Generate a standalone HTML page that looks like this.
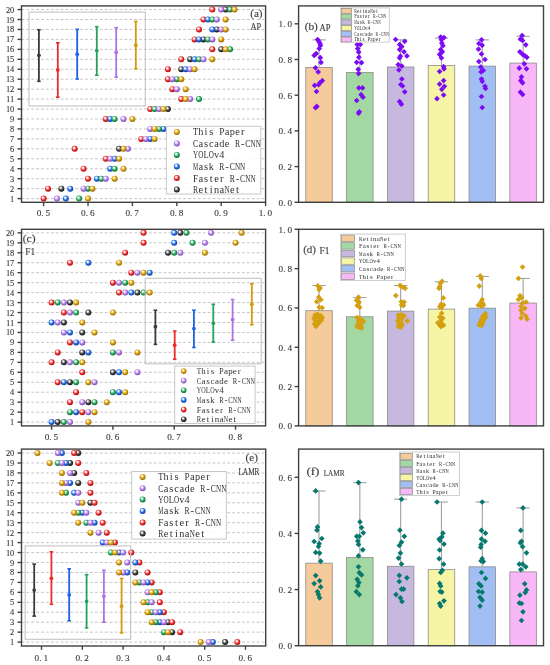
<!DOCTYPE html>
<html><head><meta charset="utf-8"><title>figure</title><style>html,body{margin:0;padding:0;background:#fff;}svg{display:block;will-change:transform;}body{font-family:"Liberation Serif",serif;}</style></head><body>
<svg width="550" height="665" viewBox="0 0 550 665" font-family="Liberation Serif, serif" fill="#3a3a3a">
<style>.tl{stroke:#3a3a3a;stroke-width:0.12px;}</style>
<defs>
<radialGradient id="gTP" cx="0.45" cy="0.42" r="0.6" fx="0.38" fy="0.32"><stop offset="0" stop-color="#ffffff"/><stop offset="0.12" stop-color="#ffffff" stop-opacity="0.95"/><stop offset="0.3" stop-color="#f7d26a"/><stop offset="0.6" stop-color="#d49d0c"/><stop offset="1" stop-color="#8a6200"/></radialGradient>
<radialGradient id="gCA" cx="0.45" cy="0.42" r="0.6" fx="0.38" fy="0.32"><stop offset="0" stop-color="#ffffff"/><stop offset="0.12" stop-color="#ffffff" stop-opacity="0.95"/><stop offset="0.3" stop-color="#e4c8ff"/><stop offset="0.6" stop-color="#b27ee8"/><stop offset="1" stop-color="#6f3fa8"/></radialGradient>
<radialGradient id="gYO" cx="0.45" cy="0.42" r="0.6" fx="0.38" fy="0.32"><stop offset="0" stop-color="#ffffff"/><stop offset="0.12" stop-color="#ffffff" stop-opacity="0.95"/><stop offset="0.3" stop-color="#9ee6b8"/><stop offset="0.6" stop-color="#25a35a"/><stop offset="1" stop-color="#0d6a33"/></radialGradient>
<radialGradient id="gMA" cx="0.45" cy="0.42" r="0.6" fx="0.38" fy="0.32"><stop offset="0" stop-color="#ffffff"/><stop offset="0.12" stop-color="#ffffff" stop-opacity="0.95"/><stop offset="0.3" stop-color="#a8ccff"/><stop offset="0.6" stop-color="#1f6ae6"/><stop offset="1" stop-color="#0a3a9a"/></radialGradient>
<radialGradient id="gFA" cx="0.45" cy="0.42" r="0.6" fx="0.38" fy="0.32"><stop offset="0" stop-color="#ffffff"/><stop offset="0.12" stop-color="#ffffff" stop-opacity="0.95"/><stop offset="0.3" stop-color="#ffb0b0"/><stop offset="0.6" stop-color="#ef2a2a"/><stop offset="1" stop-color="#a00808"/></radialGradient>
<radialGradient id="gRE" cx="0.45" cy="0.42" r="0.6" fx="0.38" fy="0.32"><stop offset="0" stop-color="#ffffff"/><stop offset="0.12" stop-color="#ffffff" stop-opacity="0.95"/><stop offset="0.3" stop-color="#b0b0b0"/><stop offset="0.6" stop-color="#3c3c3c"/><stop offset="1" stop-color="#101010"/></radialGradient>
</defs>
<rect width="550" height="665" fill="#ffffff"/>
<line x1="21.5" y1="198.60" x2="265.6" y2="198.60" stroke="#c0c0c0" stroke-width="0.9" stroke-dasharray="2.8 2.1"/>
<line x1="21.5" y1="188.65" x2="265.6" y2="188.65" stroke="#c0c0c0" stroke-width="0.9" stroke-dasharray="2.8 2.1"/>
<line x1="21.5" y1="178.70" x2="265.6" y2="178.70" stroke="#c0c0c0" stroke-width="0.9" stroke-dasharray="2.8 2.1"/>
<line x1="21.5" y1="168.75" x2="265.6" y2="168.75" stroke="#c0c0c0" stroke-width="0.9" stroke-dasharray="2.8 2.1"/>
<line x1="21.5" y1="158.80" x2="265.6" y2="158.80" stroke="#c0c0c0" stroke-width="0.9" stroke-dasharray="2.8 2.1"/>
<line x1="21.5" y1="148.85" x2="265.6" y2="148.85" stroke="#c0c0c0" stroke-width="0.9" stroke-dasharray="2.8 2.1"/>
<line x1="21.5" y1="138.90" x2="265.6" y2="138.90" stroke="#c0c0c0" stroke-width="0.9" stroke-dasharray="2.8 2.1"/>
<line x1="21.5" y1="128.95" x2="265.6" y2="128.95" stroke="#c0c0c0" stroke-width="0.9" stroke-dasharray="2.8 2.1"/>
<line x1="21.5" y1="119.00" x2="265.6" y2="119.00" stroke="#c0c0c0" stroke-width="0.9" stroke-dasharray="2.8 2.1"/>
<line x1="21.5" y1="109.05" x2="265.6" y2="109.05" stroke="#c0c0c0" stroke-width="0.9" stroke-dasharray="2.8 2.1"/>
<line x1="21.5" y1="99.10" x2="265.6" y2="99.10" stroke="#c0c0c0" stroke-width="0.9" stroke-dasharray="2.8 2.1"/>
<line x1="21.5" y1="89.15" x2="265.6" y2="89.15" stroke="#c0c0c0" stroke-width="0.9" stroke-dasharray="2.8 2.1"/>
<line x1="21.5" y1="79.20" x2="265.6" y2="79.20" stroke="#c0c0c0" stroke-width="0.9" stroke-dasharray="2.8 2.1"/>
<line x1="21.5" y1="69.25" x2="265.6" y2="69.25" stroke="#c0c0c0" stroke-width="0.9" stroke-dasharray="2.8 2.1"/>
<line x1="21.5" y1="59.30" x2="265.6" y2="59.30" stroke="#c0c0c0" stroke-width="0.9" stroke-dasharray="2.8 2.1"/>
<line x1="21.5" y1="49.35" x2="265.6" y2="49.35" stroke="#c0c0c0" stroke-width="0.9" stroke-dasharray="2.8 2.1"/>
<line x1="21.5" y1="39.40" x2="265.6" y2="39.40" stroke="#c0c0c0" stroke-width="0.9" stroke-dasharray="2.8 2.1"/>
<line x1="21.5" y1="29.45" x2="265.6" y2="29.45" stroke="#c0c0c0" stroke-width="0.9" stroke-dasharray="2.8 2.1"/>
<line x1="21.5" y1="19.50" x2="265.6" y2="19.50" stroke="#c0c0c0" stroke-width="0.9" stroke-dasharray="2.8 2.1"/>
<line x1="21.5" y1="9.55" x2="265.6" y2="9.55" stroke="#c0c0c0" stroke-width="0.9" stroke-dasharray="2.8 2.1"/>
<line x1="17.5" y1="198.60" x2="21.5" y2="198.60" stroke="#404040" stroke-width="1.4"/>
<text class="tl" x="14.3" y="201.60" font-size="8.6" text-anchor="end" textLength="4.2" lengthAdjust="spacingAndGlyphs">1</text>
<line x1="17.5" y1="188.65" x2="21.5" y2="188.65" stroke="#404040" stroke-width="1.4"/>
<text class="tl" x="14.3" y="191.65" font-size="8.6" text-anchor="end" textLength="4.2" lengthAdjust="spacingAndGlyphs">2</text>
<line x1="17.5" y1="178.70" x2="21.5" y2="178.70" stroke="#404040" stroke-width="1.4"/>
<text class="tl" x="14.3" y="181.70" font-size="8.6" text-anchor="end" textLength="4.2" lengthAdjust="spacingAndGlyphs">3</text>
<line x1="17.5" y1="168.75" x2="21.5" y2="168.75" stroke="#404040" stroke-width="1.4"/>
<text class="tl" x="14.3" y="171.75" font-size="8.6" text-anchor="end" textLength="4.2" lengthAdjust="spacingAndGlyphs">4</text>
<line x1="17.5" y1="158.80" x2="21.5" y2="158.80" stroke="#404040" stroke-width="1.4"/>
<text class="tl" x="14.3" y="161.80" font-size="8.6" text-anchor="end" textLength="4.2" lengthAdjust="spacingAndGlyphs">5</text>
<line x1="17.5" y1="148.85" x2="21.5" y2="148.85" stroke="#404040" stroke-width="1.4"/>
<text class="tl" x="14.3" y="151.85" font-size="8.6" text-anchor="end" textLength="4.2" lengthAdjust="spacingAndGlyphs">6</text>
<line x1="17.5" y1="138.90" x2="21.5" y2="138.90" stroke="#404040" stroke-width="1.4"/>
<text class="tl" x="14.3" y="141.90" font-size="8.6" text-anchor="end" textLength="4.2" lengthAdjust="spacingAndGlyphs">7</text>
<line x1="17.5" y1="128.95" x2="21.5" y2="128.95" stroke="#404040" stroke-width="1.4"/>
<text class="tl" x="14.3" y="131.95" font-size="8.6" text-anchor="end" textLength="4.2" lengthAdjust="spacingAndGlyphs">8</text>
<line x1="17.5" y1="119.00" x2="21.5" y2="119.00" stroke="#404040" stroke-width="1.4"/>
<text class="tl" x="14.3" y="122.00" font-size="8.6" text-anchor="end" textLength="4.2" lengthAdjust="spacingAndGlyphs">9</text>
<line x1="17.5" y1="109.05" x2="21.5" y2="109.05" stroke="#404040" stroke-width="1.4"/>
<text class="tl" x="14.3" y="112.05" font-size="8.6" text-anchor="end" textLength="8.4" lengthAdjust="spacingAndGlyphs">10</text>
<line x1="17.5" y1="99.10" x2="21.5" y2="99.10" stroke="#404040" stroke-width="1.4"/>
<text class="tl" x="14.3" y="102.10" font-size="8.6" text-anchor="end" textLength="8.4" lengthAdjust="spacingAndGlyphs">11</text>
<line x1="17.5" y1="89.15" x2="21.5" y2="89.15" stroke="#404040" stroke-width="1.4"/>
<text class="tl" x="14.3" y="92.15" font-size="8.6" text-anchor="end" textLength="8.4" lengthAdjust="spacingAndGlyphs">12</text>
<line x1="17.5" y1="79.20" x2="21.5" y2="79.20" stroke="#404040" stroke-width="1.4"/>
<text class="tl" x="14.3" y="82.20" font-size="8.6" text-anchor="end" textLength="8.4" lengthAdjust="spacingAndGlyphs">13</text>
<line x1="17.5" y1="69.25" x2="21.5" y2="69.25" stroke="#404040" stroke-width="1.4"/>
<text class="tl" x="14.3" y="72.25" font-size="8.6" text-anchor="end" textLength="8.4" lengthAdjust="spacingAndGlyphs">14</text>
<line x1="17.5" y1="59.30" x2="21.5" y2="59.30" stroke="#404040" stroke-width="1.4"/>
<text class="tl" x="14.3" y="62.30" font-size="8.6" text-anchor="end" textLength="8.4" lengthAdjust="spacingAndGlyphs">15</text>
<line x1="17.5" y1="49.35" x2="21.5" y2="49.35" stroke="#404040" stroke-width="1.4"/>
<text class="tl" x="14.3" y="52.35" font-size="8.6" text-anchor="end" textLength="8.4" lengthAdjust="spacingAndGlyphs">16</text>
<line x1="17.5" y1="39.40" x2="21.5" y2="39.40" stroke="#404040" stroke-width="1.4"/>
<text class="tl" x="14.3" y="42.40" font-size="8.6" text-anchor="end" textLength="8.4" lengthAdjust="spacingAndGlyphs">17</text>
<line x1="17.5" y1="29.45" x2="21.5" y2="29.45" stroke="#404040" stroke-width="1.4"/>
<text class="tl" x="14.3" y="32.45" font-size="8.6" text-anchor="end" textLength="8.4" lengthAdjust="spacingAndGlyphs">18</text>
<line x1="17.5" y1="19.50" x2="21.5" y2="19.50" stroke="#404040" stroke-width="1.4"/>
<text class="tl" x="14.3" y="22.50" font-size="8.6" text-anchor="end" textLength="8.4" lengthAdjust="spacingAndGlyphs">19</text>
<line x1="17.5" y1="9.55" x2="21.5" y2="9.55" stroke="#404040" stroke-width="1.4"/>
<text class="tl" x="14.3" y="12.55" font-size="8.6" text-anchor="end" textLength="8.4" lengthAdjust="spacingAndGlyphs">20</text>
<line x1="43.60" y1="202.3" x2="43.60" y2="206.10000000000002" stroke="#404040" stroke-width="1.4"/>
<g class="tl"><text x="41.30" y="215.90" font-size="9.2" text-anchor="end">0</text><text x="42.40" y="215.90" font-size="9.2" text-anchor="middle">.</text><text x="45.55" y="215.90" font-size="9.2" text-anchor="start">5</text></g>
<line x1="88.00" y1="202.3" x2="88.00" y2="206.10000000000002" stroke="#404040" stroke-width="1.4"/>
<g class="tl"><text x="85.70" y="215.90" font-size="9.2" text-anchor="end">0</text><text x="86.80" y="215.90" font-size="9.2" text-anchor="middle">.</text><text x="89.95" y="215.90" font-size="9.2" text-anchor="start">6</text></g>
<line x1="132.40" y1="202.3" x2="132.40" y2="206.10000000000002" stroke="#404040" stroke-width="1.4"/>
<g class="tl"><text x="130.10" y="215.90" font-size="9.2" text-anchor="end">0</text><text x="131.20" y="215.90" font-size="9.2" text-anchor="middle">.</text><text x="134.35" y="215.90" font-size="9.2" text-anchor="start">7</text></g>
<line x1="176.80" y1="202.3" x2="176.80" y2="206.10000000000002" stroke="#404040" stroke-width="1.4"/>
<g class="tl"><text x="174.50" y="215.90" font-size="9.2" text-anchor="end">0</text><text x="175.60" y="215.90" font-size="9.2" text-anchor="middle">.</text><text x="178.75" y="215.90" font-size="9.2" text-anchor="start">8</text></g>
<line x1="221.20" y1="202.3" x2="221.20" y2="206.10000000000002" stroke="#404040" stroke-width="1.4"/>
<g class="tl"><text x="218.90" y="215.90" font-size="9.2" text-anchor="end">0</text><text x="220.00" y="215.90" font-size="9.2" text-anchor="middle">.</text><text x="223.15" y="215.90" font-size="9.2" text-anchor="start">9</text></g>
<line x1="265.60" y1="202.3" x2="265.60" y2="206.10000000000002" stroke="#404040" stroke-width="1.4"/>
<g class="tl"><text x="263.30" y="215.90" font-size="9.2" text-anchor="end">1</text><text x="264.40" y="215.90" font-size="9.2" text-anchor="middle">.</text><text x="267.55" y="215.90" font-size="9.2" text-anchor="start">0</text></g>
<circle cx="43.60" cy="198.60" r="3.0" fill="url(#gFA)"/>
<circle cx="65.80" cy="198.60" r="3.0" fill="url(#gMA)"/>
<circle cx="79.12" cy="198.60" r="3.0" fill="url(#gYO)"/>
<circle cx="56.92" cy="198.60" r="3.0" fill="url(#gCA)"/>
<circle cx="88.00" cy="198.60" r="3.0" fill="url(#gTP)"/>
<circle cx="61.36" cy="188.65" r="3.0" fill="url(#gRE)"/>
<circle cx="48.04" cy="188.65" r="3.0" fill="url(#gFA)"/>
<circle cx="70.24" cy="188.65" r="3.0" fill="url(#gMA)"/>
<circle cx="88.00" cy="188.65" r="3.0" fill="url(#gYO)"/>
<circle cx="83.56" cy="188.65" r="3.0" fill="url(#gCA)"/>
<circle cx="92.44" cy="188.65" r="3.0" fill="url(#gTP)"/>
<circle cx="88.00" cy="178.70" r="3.0" fill="url(#gFA)"/>
<circle cx="96.88" cy="178.70" r="3.0" fill="url(#gMA)"/>
<circle cx="101.32" cy="178.70" r="3.0" fill="url(#gYO)"/>
<circle cx="105.76" cy="178.70" r="3.0" fill="url(#gCA)"/>
<circle cx="114.64" cy="178.70" r="3.0" fill="url(#gTP)"/>
<circle cx="83.56" cy="168.75" r="3.0" fill="url(#gFA)"/>
<circle cx="110.20" cy="168.75" r="3.0" fill="url(#gMA)"/>
<circle cx="114.64" cy="168.75" r="3.0" fill="url(#gYO)"/>
<circle cx="123.52" cy="168.75" r="3.0" fill="url(#gTP)"/>
<circle cx="105.76" cy="158.80" r="3.0" fill="url(#gFA)"/>
<circle cx="114.64" cy="158.80" r="3.0" fill="url(#gMA)"/>
<circle cx="110.20" cy="158.80" r="3.0" fill="url(#gCA)"/>
<circle cx="119.08" cy="158.80" r="3.0" fill="url(#gTP)"/>
<circle cx="119.08" cy="148.85" r="3.0" fill="url(#gRE)"/>
<circle cx="74.68" cy="148.85" r="3.0" fill="url(#gFA)"/>
<circle cx="127.96" cy="148.85" r="3.0" fill="url(#gCA)"/>
<circle cx="123.52" cy="148.85" r="3.0" fill="url(#gTP)"/>
<circle cx="141.28" cy="138.90" r="3.0" fill="url(#gFA)"/>
<circle cx="150.16" cy="138.90" r="3.0" fill="url(#gMA)"/>
<circle cx="145.72" cy="138.90" r="3.0" fill="url(#gCA)"/>
<circle cx="154.60" cy="138.90" r="3.0" fill="url(#gTP)"/>
<circle cx="163.48" cy="128.95" r="3.0" fill="url(#gMA)"/>
<circle cx="159.04" cy="128.95" r="3.0" fill="url(#gYO)"/>
<circle cx="150.16" cy="128.95" r="3.0" fill="url(#gCA)"/>
<circle cx="154.60" cy="128.95" r="3.0" fill="url(#gTP)"/>
<circle cx="105.76" cy="119.00" r="3.0" fill="url(#gFA)"/>
<circle cx="110.20" cy="119.00" r="3.0" fill="url(#gMA)"/>
<circle cx="114.64" cy="119.00" r="3.0" fill="url(#gYO)"/>
<circle cx="123.52" cy="119.00" r="3.0" fill="url(#gCA)"/>
<circle cx="132.40" cy="119.00" r="3.0" fill="url(#gTP)"/>
<circle cx="167.92" cy="109.05" r="3.0" fill="url(#gRE)"/>
<circle cx="150.16" cy="109.05" r="3.0" fill="url(#gFA)"/>
<circle cx="154.60" cy="109.05" r="3.0" fill="url(#gYO)"/>
<circle cx="159.04" cy="109.05" r="3.0" fill="url(#gCA)"/>
<circle cx="163.48" cy="109.05" r="3.0" fill="url(#gTP)"/>
<circle cx="181.24" cy="99.10" r="3.0" fill="url(#gFA)"/>
<circle cx="199.00" cy="99.10" r="3.0" fill="url(#gYO)"/>
<circle cx="190.12" cy="99.10" r="3.0" fill="url(#gCA)"/>
<circle cx="185.68" cy="99.10" r="3.0" fill="url(#gTP)"/>
<circle cx="172.36" cy="89.15" r="3.0" fill="url(#gFA)"/>
<circle cx="176.80" cy="89.15" r="3.0" fill="url(#gCA)"/>
<circle cx="185.68" cy="89.15" r="3.0" fill="url(#gTP)"/>
<circle cx="167.92" cy="79.20" r="3.0" fill="url(#gFA)"/>
<circle cx="176.80" cy="79.20" r="3.0" fill="url(#gYO)"/>
<circle cx="172.36" cy="79.20" r="3.0" fill="url(#gCA)"/>
<circle cx="181.24" cy="79.20" r="3.0" fill="url(#gTP)"/>
<circle cx="181.24" cy="69.25" r="3.0" fill="url(#gRE)"/>
<circle cx="167.92" cy="69.25" r="3.0" fill="url(#gFA)"/>
<circle cx="185.68" cy="69.25" r="3.0" fill="url(#gMA)"/>
<circle cx="190.12" cy="69.25" r="3.0" fill="url(#gCA)"/>
<circle cx="194.56" cy="69.25" r="3.0" fill="url(#gTP)"/>
<circle cx="190.12" cy="59.30" r="3.0" fill="url(#gRE)"/>
<circle cx="181.24" cy="59.30" r="3.0" fill="url(#gFA)"/>
<circle cx="194.56" cy="59.30" r="3.0" fill="url(#gMA)"/>
<circle cx="199.00" cy="59.30" r="3.0" fill="url(#gYO)"/>
<circle cx="203.44" cy="59.30" r="3.0" fill="url(#gCA)"/>
<circle cx="212.32" cy="59.30" r="3.0" fill="url(#gTP)"/>
<circle cx="221.20" cy="49.35" r="3.0" fill="url(#gRE)"/>
<circle cx="212.32" cy="49.35" r="3.0" fill="url(#gFA)"/>
<circle cx="230.08" cy="49.35" r="3.0" fill="url(#gYO)"/>
<circle cx="225.64" cy="49.35" r="3.0" fill="url(#gTP)"/>
<circle cx="203.44" cy="39.40" r="3.0" fill="url(#gRE)"/>
<circle cx="194.56" cy="39.40" r="3.0" fill="url(#gFA)"/>
<circle cx="199.00" cy="39.40" r="3.0" fill="url(#gMA)"/>
<circle cx="207.88" cy="39.40" r="3.0" fill="url(#gYO)"/>
<circle cx="212.32" cy="39.40" r="3.0" fill="url(#gCA)"/>
<circle cx="221.20" cy="39.40" r="3.0" fill="url(#gTP)"/>
<circle cx="216.76" cy="29.45" r="3.0" fill="url(#gRE)"/>
<circle cx="199.00" cy="29.45" r="3.0" fill="url(#gFA)"/>
<circle cx="212.32" cy="29.45" r="3.0" fill="url(#gMA)"/>
<circle cx="221.20" cy="29.45" r="3.0" fill="url(#gCA)"/>
<circle cx="225.64" cy="29.45" r="3.0" fill="url(#gTP)"/>
<circle cx="203.44" cy="19.50" r="3.0" fill="url(#gFA)"/>
<circle cx="207.88" cy="19.50" r="3.0" fill="url(#gMA)"/>
<circle cx="212.32" cy="19.50" r="3.0" fill="url(#gYO)"/>
<circle cx="216.76" cy="19.50" r="3.0" fill="url(#gCA)"/>
<circle cx="225.64" cy="19.50" r="3.0" fill="url(#gTP)"/>
<circle cx="225.64" cy="9.55" r="3.0" fill="url(#gRE)"/>
<circle cx="212.32" cy="9.55" r="3.0" fill="url(#gFA)"/>
<circle cx="230.08" cy="9.55" r="3.0" fill="url(#gYO)"/>
<circle cx="221.20" cy="9.55" r="3.0" fill="url(#gCA)"/>
<circle cx="234.52" cy="9.55" r="3.0" fill="url(#gTP)"/>
<rect x="29.0" y="12.1" width="116.30" height="93.90" fill="none" stroke="#c4c4c4" stroke-width="1.1"/>
<line x1="38.9" y1="29.8" x2="38.9" y2="81.3" stroke="#3a3a3a" stroke-width="1.8"/>
<line x1="37.1" y1="29.8" x2="40.699999999999996" y2="29.8" stroke="#3a3a3a" stroke-width="1.6"/>
<line x1="37.1" y1="81.3" x2="40.699999999999996" y2="81.3" stroke="#3a3a3a" stroke-width="1.6"/>
<circle cx="38.9" cy="55.3" r="1.9" fill="#3a3a3a"/>
<line x1="57.8" y1="42.8" x2="57.8" y2="97.2" stroke="#f02a2a" stroke-width="1.8"/>
<line x1="56.0" y1="42.8" x2="59.599999999999994" y2="42.8" stroke="#f02a2a" stroke-width="1.6"/>
<line x1="56.0" y1="97.2" x2="59.599999999999994" y2="97.2" stroke="#f02a2a" stroke-width="1.6"/>
<circle cx="57.8" cy="70.0" r="1.9" fill="#f02a2a"/>
<line x1="77.2" y1="29.3" x2="77.2" y2="79.0" stroke="#1d62e6" stroke-width="1.8"/>
<line x1="75.4" y1="29.3" x2="79.0" y2="29.3" stroke="#1d62e6" stroke-width="1.6"/>
<line x1="75.4" y1="79.0" x2="79.0" y2="79.0" stroke="#1d62e6" stroke-width="1.6"/>
<circle cx="77.2" cy="54.2" r="1.9" fill="#1d62e6"/>
<line x1="96.8" y1="26.7" x2="96.8" y2="75.2" stroke="#26a35a" stroke-width="1.8"/>
<line x1="95.0" y1="26.7" x2="98.6" y2="26.7" stroke="#26a35a" stroke-width="1.6"/>
<line x1="95.0" y1="75.2" x2="98.6" y2="75.2" stroke="#26a35a" stroke-width="1.6"/>
<circle cx="96.8" cy="50.6" r="1.9" fill="#26a35a"/>
<line x1="116.2" y1="27.7" x2="116.2" y2="77.1" stroke="#b070e6" stroke-width="1.8"/>
<line x1="114.4" y1="27.7" x2="118.0" y2="27.7" stroke="#b070e6" stroke-width="1.6"/>
<line x1="114.4" y1="77.1" x2="118.0" y2="77.1" stroke="#b070e6" stroke-width="1.6"/>
<circle cx="116.2" cy="52.3" r="1.9" fill="#b070e6"/>
<line x1="135.8" y1="21.5" x2="135.8" y2="68.8" stroke="#d39b0a" stroke-width="1.8"/>
<line x1="134.0" y1="21.5" x2="137.60000000000002" y2="21.5" stroke="#d39b0a" stroke-width="1.6"/>
<line x1="134.0" y1="68.8" x2="137.60000000000002" y2="68.8" stroke="#d39b0a" stroke-width="1.6"/>
<circle cx="135.8" cy="45.2" r="1.9" fill="#d39b0a"/>
<rect x="166.4" y="126.3" width="94.40" height="67.70" fill="#ffffff" fill-opacity="0.85" stroke="#c8c8c8" stroke-width="1"/>
<circle cx="176.80" cy="132.00" r="3.0" fill="url(#gTP)"/>
<text x="193.05" y="135.45" font-size="10.46" textLength="5.13" lengthAdjust="spacingAndGlyphs" fill="#333">T</text>
<text x="198.28" y="135.45" font-size="10.46" textLength="5.13" lengthAdjust="spacingAndGlyphs" fill="#333">h</text>
<text x="219.20" y="135.45" font-size="10.46" textLength="5.13" lengthAdjust="spacingAndGlyphs" fill="#333">P</text>
<text x="229.66" y="135.45" font-size="10.46" textLength="5.13" lengthAdjust="spacingAndGlyphs" fill="#333">p</text>
<text x="206.07 211.31 227.00 237.46 242.69" y="135.45" font-size="10.46" text-anchor="middle" fill="#333">isaer</text>
<circle cx="176.80" cy="143.40" r="3.0" fill="url(#gCA)"/>
<text x="193.05" y="146.85" font-size="10.46" textLength="5.13" lengthAdjust="spacingAndGlyphs" fill="#333">C</text>
<text x="219.20" y="146.85" font-size="10.46" textLength="5.13" lengthAdjust="spacingAndGlyphs" fill="#333">d</text>
<text x="234.89" y="146.85" font-size="10.46" textLength="5.13" lengthAdjust="spacingAndGlyphs" fill="#333">R</text>
<text x="245.35" y="146.85" font-size="10.46" textLength="5.13" lengthAdjust="spacingAndGlyphs" fill="#333">C</text>
<text x="250.58" y="146.85" font-size="10.46" textLength="5.13" lengthAdjust="spacingAndGlyphs" fill="#333">N</text>
<text x="255.81" y="146.85" font-size="10.46" textLength="5.13" lengthAdjust="spacingAndGlyphs" fill="#333">N</text>
<text x="200.84 206.07 211.31 216.53 227.00 242.69" y="146.85" font-size="10.46" text-anchor="middle" fill="#333">ascae-</text>
<circle cx="176.80" cy="154.90" r="3.0" fill="url(#gYO)"/>
<text x="193.05" y="158.35" font-size="10.46" textLength="5.13" lengthAdjust="spacingAndGlyphs" fill="#333">Y</text>
<text x="198.28" y="158.35" font-size="10.46" textLength="5.13" lengthAdjust="spacingAndGlyphs" fill="#333">O</text>
<text x="203.51" y="158.35" font-size="10.46" textLength="5.13" lengthAdjust="spacingAndGlyphs" fill="#333">L</text>
<text x="208.74" y="158.35" font-size="10.46" textLength="5.13" lengthAdjust="spacingAndGlyphs" fill="#333">O</text>
<text x="213.97" y="158.35" font-size="10.46" textLength="5.13" lengthAdjust="spacingAndGlyphs" fill="#333">v</text>
<text x="219.20" y="158.35" font-size="10.46" textLength="5.13" lengthAdjust="spacingAndGlyphs" fill="#333">4</text>
<circle cx="176.80" cy="166.50" r="3.0" fill="url(#gMA)"/>
<text x="193.05" y="169.95" font-size="10.46" textLength="5.13" lengthAdjust="spacingAndGlyphs" fill="#333">M</text>
<text x="208.74" y="169.95" font-size="10.46" textLength="5.13" lengthAdjust="spacingAndGlyphs" fill="#333">k</text>
<text x="219.20" y="169.95" font-size="10.46" textLength="5.13" lengthAdjust="spacingAndGlyphs" fill="#333">R</text>
<text x="229.66" y="169.95" font-size="10.46" textLength="5.13" lengthAdjust="spacingAndGlyphs" fill="#333">C</text>
<text x="234.89" y="169.95" font-size="10.46" textLength="5.13" lengthAdjust="spacingAndGlyphs" fill="#333">N</text>
<text x="240.12" y="169.95" font-size="10.46" textLength="5.13" lengthAdjust="spacingAndGlyphs" fill="#333">N</text>
<text x="200.84 206.07 227.00" y="169.95" font-size="10.46" text-anchor="middle" fill="#333">as-</text>
<circle cx="176.80" cy="178.10" r="3.0" fill="url(#gFA)"/>
<text x="193.05" y="181.55" font-size="10.46" textLength="5.13" lengthAdjust="spacingAndGlyphs" fill="#333">F</text>
<text x="229.66" y="181.55" font-size="10.46" textLength="5.13" lengthAdjust="spacingAndGlyphs" fill="#333">R</text>
<text x="240.12" y="181.55" font-size="10.46" textLength="5.13" lengthAdjust="spacingAndGlyphs" fill="#333">C</text>
<text x="245.35" y="181.55" font-size="10.46" textLength="5.13" lengthAdjust="spacingAndGlyphs" fill="#333">N</text>
<text x="250.58" y="181.55" font-size="10.46" textLength="5.13" lengthAdjust="spacingAndGlyphs" fill="#333">N</text>
<text x="200.84 206.07 211.31 216.53 221.76 237.46" y="181.55" font-size="10.46" text-anchor="middle" fill="#333">aster-</text>
<circle cx="176.80" cy="189.60" r="3.0" fill="url(#gRE)"/>
<text x="193.05" y="193.05" font-size="10.46" textLength="5.13" lengthAdjust="spacingAndGlyphs" fill="#333">R</text>
<text x="213.97" y="193.05" font-size="10.46" textLength="5.13" lengthAdjust="spacingAndGlyphs" fill="#333">n</text>
<text x="224.43" y="193.05" font-size="10.46" textLength="5.13" lengthAdjust="spacingAndGlyphs" fill="#333">N</text>
<text x="200.84 206.07 211.31 221.76 232.22 237.46" y="193.05" font-size="10.46" text-anchor="middle" fill="#333">etiaet</text>
<rect x="21.5" y="5.9" width="244.10" height="196.40" fill="none" stroke="#404040" stroke-width="1.4"/>
<text class="tl" x="250.20" y="16.90" font-size="11" textLength="12.40" lengthAdjust="spacingAndGlyphs">(a)</text>
<text class="tl" x="250.50" y="29.60" font-size="11" textLength="10.70" lengthAdjust="spacingAndGlyphs">AP</text>
<line x1="21.5" y1="422.10" x2="265.6" y2="422.10" stroke="#c0c0c0" stroke-width="0.9" stroke-dasharray="2.8 2.1"/>
<line x1="21.5" y1="412.14" x2="265.6" y2="412.14" stroke="#c0c0c0" stroke-width="0.9" stroke-dasharray="2.8 2.1"/>
<line x1="21.5" y1="402.18" x2="265.6" y2="402.18" stroke="#c0c0c0" stroke-width="0.9" stroke-dasharray="2.8 2.1"/>
<line x1="21.5" y1="392.22" x2="265.6" y2="392.22" stroke="#c0c0c0" stroke-width="0.9" stroke-dasharray="2.8 2.1"/>
<line x1="21.5" y1="382.26" x2="265.6" y2="382.26" stroke="#c0c0c0" stroke-width="0.9" stroke-dasharray="2.8 2.1"/>
<line x1="21.5" y1="372.30" x2="265.6" y2="372.30" stroke="#c0c0c0" stroke-width="0.9" stroke-dasharray="2.8 2.1"/>
<line x1="21.5" y1="362.34" x2="265.6" y2="362.34" stroke="#c0c0c0" stroke-width="0.9" stroke-dasharray="2.8 2.1"/>
<line x1="21.5" y1="352.38" x2="265.6" y2="352.38" stroke="#c0c0c0" stroke-width="0.9" stroke-dasharray="2.8 2.1"/>
<line x1="21.5" y1="342.42" x2="265.6" y2="342.42" stroke="#c0c0c0" stroke-width="0.9" stroke-dasharray="2.8 2.1"/>
<line x1="21.5" y1="332.46" x2="265.6" y2="332.46" stroke="#c0c0c0" stroke-width="0.9" stroke-dasharray="2.8 2.1"/>
<line x1="21.5" y1="322.50" x2="265.6" y2="322.50" stroke="#c0c0c0" stroke-width="0.9" stroke-dasharray="2.8 2.1"/>
<line x1="21.5" y1="312.54" x2="265.6" y2="312.54" stroke="#c0c0c0" stroke-width="0.9" stroke-dasharray="2.8 2.1"/>
<line x1="21.5" y1="302.58" x2="265.6" y2="302.58" stroke="#c0c0c0" stroke-width="0.9" stroke-dasharray="2.8 2.1"/>
<line x1="21.5" y1="292.62" x2="265.6" y2="292.62" stroke="#c0c0c0" stroke-width="0.9" stroke-dasharray="2.8 2.1"/>
<line x1="21.5" y1="282.66" x2="265.6" y2="282.66" stroke="#c0c0c0" stroke-width="0.9" stroke-dasharray="2.8 2.1"/>
<line x1="21.5" y1="272.70" x2="265.6" y2="272.70" stroke="#c0c0c0" stroke-width="0.9" stroke-dasharray="2.8 2.1"/>
<line x1="21.5" y1="262.74" x2="265.6" y2="262.74" stroke="#c0c0c0" stroke-width="0.9" stroke-dasharray="2.8 2.1"/>
<line x1="21.5" y1="252.78" x2="265.6" y2="252.78" stroke="#c0c0c0" stroke-width="0.9" stroke-dasharray="2.8 2.1"/>
<line x1="21.5" y1="242.82" x2="265.6" y2="242.82" stroke="#c0c0c0" stroke-width="0.9" stroke-dasharray="2.8 2.1"/>
<line x1="21.5" y1="232.86" x2="265.6" y2="232.86" stroke="#c0c0c0" stroke-width="0.9" stroke-dasharray="2.8 2.1"/>
<line x1="17.5" y1="422.10" x2="21.5" y2="422.10" stroke="#404040" stroke-width="1.4"/>
<text class="tl" x="14.3" y="425.10" font-size="8.6" text-anchor="end" textLength="4.2" lengthAdjust="spacingAndGlyphs">1</text>
<line x1="17.5" y1="412.14" x2="21.5" y2="412.14" stroke="#404040" stroke-width="1.4"/>
<text class="tl" x="14.3" y="415.14" font-size="8.6" text-anchor="end" textLength="4.2" lengthAdjust="spacingAndGlyphs">2</text>
<line x1="17.5" y1="402.18" x2="21.5" y2="402.18" stroke="#404040" stroke-width="1.4"/>
<text class="tl" x="14.3" y="405.18" font-size="8.6" text-anchor="end" textLength="4.2" lengthAdjust="spacingAndGlyphs">3</text>
<line x1="17.5" y1="392.22" x2="21.5" y2="392.22" stroke="#404040" stroke-width="1.4"/>
<text class="tl" x="14.3" y="395.22" font-size="8.6" text-anchor="end" textLength="4.2" lengthAdjust="spacingAndGlyphs">4</text>
<line x1="17.5" y1="382.26" x2="21.5" y2="382.26" stroke="#404040" stroke-width="1.4"/>
<text class="tl" x="14.3" y="385.26" font-size="8.6" text-anchor="end" textLength="4.2" lengthAdjust="spacingAndGlyphs">5</text>
<line x1="17.5" y1="372.30" x2="21.5" y2="372.30" stroke="#404040" stroke-width="1.4"/>
<text class="tl" x="14.3" y="375.30" font-size="8.6" text-anchor="end" textLength="4.2" lengthAdjust="spacingAndGlyphs">6</text>
<line x1="17.5" y1="362.34" x2="21.5" y2="362.34" stroke="#404040" stroke-width="1.4"/>
<text class="tl" x="14.3" y="365.34" font-size="8.6" text-anchor="end" textLength="4.2" lengthAdjust="spacingAndGlyphs">7</text>
<line x1="17.5" y1="352.38" x2="21.5" y2="352.38" stroke="#404040" stroke-width="1.4"/>
<text class="tl" x="14.3" y="355.38" font-size="8.6" text-anchor="end" textLength="4.2" lengthAdjust="spacingAndGlyphs">8</text>
<line x1="17.5" y1="342.42" x2="21.5" y2="342.42" stroke="#404040" stroke-width="1.4"/>
<text class="tl" x="14.3" y="345.42" font-size="8.6" text-anchor="end" textLength="4.2" lengthAdjust="spacingAndGlyphs">9</text>
<line x1="17.5" y1="332.46" x2="21.5" y2="332.46" stroke="#404040" stroke-width="1.4"/>
<text class="tl" x="14.3" y="335.46" font-size="8.6" text-anchor="end" textLength="8.4" lengthAdjust="spacingAndGlyphs">10</text>
<line x1="17.5" y1="322.50" x2="21.5" y2="322.50" stroke="#404040" stroke-width="1.4"/>
<text class="tl" x="14.3" y="325.50" font-size="8.6" text-anchor="end" textLength="8.4" lengthAdjust="spacingAndGlyphs">11</text>
<line x1="17.5" y1="312.54" x2="21.5" y2="312.54" stroke="#404040" stroke-width="1.4"/>
<text class="tl" x="14.3" y="315.54" font-size="8.6" text-anchor="end" textLength="8.4" lengthAdjust="spacingAndGlyphs">12</text>
<line x1="17.5" y1="302.58" x2="21.5" y2="302.58" stroke="#404040" stroke-width="1.4"/>
<text class="tl" x="14.3" y="305.58" font-size="8.6" text-anchor="end" textLength="8.4" lengthAdjust="spacingAndGlyphs">13</text>
<line x1="17.5" y1="292.62" x2="21.5" y2="292.62" stroke="#404040" stroke-width="1.4"/>
<text class="tl" x="14.3" y="295.62" font-size="8.6" text-anchor="end" textLength="8.4" lengthAdjust="spacingAndGlyphs">14</text>
<line x1="17.5" y1="282.66" x2="21.5" y2="282.66" stroke="#404040" stroke-width="1.4"/>
<text class="tl" x="14.3" y="285.66" font-size="8.6" text-anchor="end" textLength="8.4" lengthAdjust="spacingAndGlyphs">15</text>
<line x1="17.5" y1="272.70" x2="21.5" y2="272.70" stroke="#404040" stroke-width="1.4"/>
<text class="tl" x="14.3" y="275.70" font-size="8.6" text-anchor="end" textLength="8.4" lengthAdjust="spacingAndGlyphs">16</text>
<line x1="17.5" y1="262.74" x2="21.5" y2="262.74" stroke="#404040" stroke-width="1.4"/>
<text class="tl" x="14.3" y="265.74" font-size="8.6" text-anchor="end" textLength="8.4" lengthAdjust="spacingAndGlyphs">17</text>
<line x1="17.5" y1="252.78" x2="21.5" y2="252.78" stroke="#404040" stroke-width="1.4"/>
<text class="tl" x="14.3" y="255.78" font-size="8.6" text-anchor="end" textLength="8.4" lengthAdjust="spacingAndGlyphs">18</text>
<line x1="17.5" y1="242.82" x2="21.5" y2="242.82" stroke="#404040" stroke-width="1.4"/>
<text class="tl" x="14.3" y="245.82" font-size="8.6" text-anchor="end" textLength="8.4" lengthAdjust="spacingAndGlyphs">19</text>
<line x1="17.5" y1="232.86" x2="21.5" y2="232.86" stroke="#404040" stroke-width="1.4"/>
<text class="tl" x="14.3" y="235.86" font-size="8.6" text-anchor="end" textLength="8.4" lengthAdjust="spacingAndGlyphs">20</text>
<line x1="51.60" y1="425.9" x2="51.60" y2="429.7" stroke="#404040" stroke-width="1.4"/>
<g class="tl"><text x="49.30" y="439.80" font-size="9.2" text-anchor="end">0</text><text x="50.40" y="439.80" font-size="9.2" text-anchor="middle">.</text><text x="53.55" y="439.80" font-size="9.2" text-anchor="start">5</text></g>
<line x1="112.90" y1="425.9" x2="112.90" y2="429.7" stroke="#404040" stroke-width="1.4"/>
<g class="tl"><text x="110.60" y="439.80" font-size="9.2" text-anchor="end">0</text><text x="111.70" y="439.80" font-size="9.2" text-anchor="middle">.</text><text x="114.85" y="439.80" font-size="9.2" text-anchor="start">6</text></g>
<line x1="174.20" y1="425.9" x2="174.20" y2="429.7" stroke="#404040" stroke-width="1.4"/>
<g class="tl"><text x="171.90" y="439.80" font-size="9.2" text-anchor="end">0</text><text x="173.00" y="439.80" font-size="9.2" text-anchor="middle">.</text><text x="176.15" y="439.80" font-size="9.2" text-anchor="start">7</text></g>
<line x1="235.50" y1="425.9" x2="235.50" y2="429.7" stroke="#404040" stroke-width="1.4"/>
<g class="tl"><text x="233.20" y="439.80" font-size="9.2" text-anchor="end">0</text><text x="234.30" y="439.80" font-size="9.2" text-anchor="middle">.</text><text x="237.45" y="439.80" font-size="9.2" text-anchor="start">8</text></g>
<circle cx="57.73" cy="422.10" r="3.0" fill="url(#gRE)"/>
<circle cx="51.60" cy="422.10" r="3.0" fill="url(#gMA)"/>
<circle cx="63.86" cy="422.10" r="3.0" fill="url(#gYO)"/>
<circle cx="69.99" cy="422.10" r="3.0" fill="url(#gCA)"/>
<circle cx="88.38" cy="422.10" r="3.0" fill="url(#gTP)"/>
<circle cx="82.25" cy="412.14" r="3.0" fill="url(#gFA)"/>
<circle cx="76.12" cy="412.14" r="3.0" fill="url(#gMA)"/>
<circle cx="69.99" cy="412.14" r="3.0" fill="url(#gYO)"/>
<circle cx="88.38" cy="412.14" r="3.0" fill="url(#gCA)"/>
<circle cx="94.51" cy="412.14" r="3.0" fill="url(#gTP)"/>
<circle cx="88.38" cy="402.18" r="3.0" fill="url(#gRE)"/>
<circle cx="69.99" cy="402.18" r="3.0" fill="url(#gFA)"/>
<circle cx="94.51" cy="402.18" r="3.0" fill="url(#gYO)"/>
<circle cx="82.25" cy="402.18" r="3.0" fill="url(#gCA)"/>
<circle cx="106.77" cy="402.18" r="3.0" fill="url(#gTP)"/>
<circle cx="76.12" cy="392.22" r="3.0" fill="url(#gFA)"/>
<circle cx="119.03" cy="392.22" r="3.0" fill="url(#gMA)"/>
<circle cx="112.90" cy="392.22" r="3.0" fill="url(#gYO)"/>
<circle cx="125.16" cy="392.22" r="3.0" fill="url(#gTP)"/>
<circle cx="69.99" cy="382.26" r="3.0" fill="url(#gRE)"/>
<circle cx="57.73" cy="382.26" r="3.0" fill="url(#gFA)"/>
<circle cx="63.86" cy="382.26" r="3.0" fill="url(#gMA)"/>
<circle cx="76.12" cy="382.26" r="3.0" fill="url(#gYO)"/>
<circle cx="94.51" cy="382.26" r="3.0" fill="url(#gCA)"/>
<circle cx="88.38" cy="382.26" r="3.0" fill="url(#gTP)"/>
<circle cx="112.90" cy="372.30" r="3.0" fill="url(#gRE)"/>
<circle cx="82.25" cy="372.30" r="3.0" fill="url(#gFA)"/>
<circle cx="119.03" cy="372.30" r="3.0" fill="url(#gMA)"/>
<circle cx="137.42" cy="372.30" r="3.0" fill="url(#gCA)"/>
<circle cx="125.16" cy="372.30" r="3.0" fill="url(#gTP)"/>
<circle cx="63.86" cy="362.34" r="3.0" fill="url(#gRE)"/>
<circle cx="51.60" cy="362.34" r="3.0" fill="url(#gFA)"/>
<circle cx="76.12" cy="362.34" r="3.0" fill="url(#gYO)"/>
<circle cx="69.99" cy="362.34" r="3.0" fill="url(#gCA)"/>
<circle cx="82.25" cy="362.34" r="3.0" fill="url(#gTP)"/>
<circle cx="82.25" cy="352.38" r="3.0" fill="url(#gRE)"/>
<circle cx="57.73" cy="352.38" r="3.0" fill="url(#gFA)"/>
<circle cx="88.38" cy="352.38" r="3.0" fill="url(#gMA)"/>
<circle cx="112.90" cy="352.38" r="3.0" fill="url(#gYO)"/>
<circle cx="119.03" cy="352.38" r="3.0" fill="url(#gCA)"/>
<circle cx="137.42" cy="352.38" r="3.0" fill="url(#gTP)"/>
<circle cx="69.99" cy="342.42" r="3.0" fill="url(#gFA)"/>
<circle cx="76.12" cy="342.42" r="3.0" fill="url(#gMA)"/>
<circle cx="82.25" cy="342.42" r="3.0" fill="url(#gCA)"/>
<circle cx="112.90" cy="342.42" r="3.0" fill="url(#gTP)"/>
<circle cx="82.25" cy="332.46" r="3.0" fill="url(#gRE)"/>
<circle cx="69.99" cy="332.46" r="3.0" fill="url(#gMA)"/>
<circle cx="63.86" cy="332.46" r="3.0" fill="url(#gCA)"/>
<circle cx="94.51" cy="332.46" r="3.0" fill="url(#gTP)"/>
<circle cx="63.86" cy="322.50" r="3.0" fill="url(#gRE)"/>
<circle cx="51.60" cy="322.50" r="3.0" fill="url(#gMA)"/>
<circle cx="57.73" cy="322.50" r="3.0" fill="url(#gCA)"/>
<circle cx="82.25" cy="322.50" r="3.0" fill="url(#gTP)"/>
<circle cx="88.38" cy="312.54" r="3.0" fill="url(#gRE)"/>
<circle cx="63.86" cy="312.54" r="3.0" fill="url(#gFA)"/>
<circle cx="76.12" cy="312.54" r="3.0" fill="url(#gYO)"/>
<circle cx="69.99" cy="312.54" r="3.0" fill="url(#gCA)"/>
<circle cx="112.90" cy="312.54" r="3.0" fill="url(#gTP)"/>
<circle cx="69.99" cy="302.58" r="3.0" fill="url(#gRE)"/>
<circle cx="51.60" cy="302.58" r="3.0" fill="url(#gFA)"/>
<circle cx="57.73" cy="302.58" r="3.0" fill="url(#gYO)"/>
<circle cx="63.86" cy="302.58" r="3.0" fill="url(#gCA)"/>
<circle cx="76.12" cy="302.58" r="3.0" fill="url(#gTP)"/>
<circle cx="137.42" cy="292.62" r="3.0" fill="url(#gRE)"/>
<circle cx="119.03" cy="292.62" r="3.0" fill="url(#gFA)"/>
<circle cx="131.29" cy="292.62" r="3.0" fill="url(#gMA)"/>
<circle cx="143.55" cy="292.62" r="3.0" fill="url(#gYO)"/>
<circle cx="125.16" cy="292.62" r="3.0" fill="url(#gCA)"/>
<circle cx="149.68" cy="292.62" r="3.0" fill="url(#gTP)"/>
<circle cx="112.90" cy="282.66" r="3.0" fill="url(#gFA)"/>
<circle cx="125.16" cy="282.66" r="3.0" fill="url(#gYO)"/>
<circle cx="119.03" cy="282.66" r="3.0" fill="url(#gCA)"/>
<circle cx="131.29" cy="282.66" r="3.0" fill="url(#gTP)"/>
<circle cx="131.29" cy="272.70" r="3.0" fill="url(#gFA)"/>
<circle cx="149.68" cy="272.70" r="3.0" fill="url(#gMA)"/>
<circle cx="137.42" cy="272.70" r="3.0" fill="url(#gCA)"/>
<circle cx="143.55" cy="272.70" r="3.0" fill="url(#gTP)"/>
<circle cx="69.99" cy="262.74" r="3.0" fill="url(#gFA)"/>
<circle cx="88.38" cy="262.74" r="3.0" fill="url(#gMA)"/>
<circle cx="119.03" cy="262.74" r="3.0" fill="url(#gTP)"/>
<circle cx="168.07" cy="252.78" r="3.0" fill="url(#gRE)"/>
<circle cx="125.16" cy="252.78" r="3.0" fill="url(#gFA)"/>
<circle cx="174.20" cy="252.78" r="3.0" fill="url(#gYO)"/>
<circle cx="180.33" cy="252.78" r="3.0" fill="url(#gCA)"/>
<circle cx="204.85" cy="252.78" r="3.0" fill="url(#gTP)"/>
<circle cx="143.55" cy="242.82" r="3.0" fill="url(#gFA)"/>
<circle cx="174.20" cy="242.82" r="3.0" fill="url(#gMA)"/>
<circle cx="192.59" cy="242.82" r="3.0" fill="url(#gYO)"/>
<circle cx="204.85" cy="242.82" r="3.0" fill="url(#gCA)"/>
<circle cx="235.50" cy="242.82" r="3.0" fill="url(#gTP)"/>
<circle cx="180.33" cy="232.86" r="3.0" fill="url(#gRE)"/>
<circle cx="143.55" cy="232.86" r="3.0" fill="url(#gFA)"/>
<circle cx="174.20" cy="232.86" r="3.0" fill="url(#gMA)"/>
<circle cx="186.46" cy="232.86" r="3.0" fill="url(#gYO)"/>
<circle cx="210.98" cy="232.86" r="3.0" fill="url(#gCA)"/>
<circle cx="241.63" cy="232.86" r="3.0" fill="url(#gTP)"/>
<rect x="145.2" y="278.3" width="116.00" height="85.50" fill="none" stroke="#c4c4c4" stroke-width="1.1"/>
<line x1="155.4" y1="310.2" x2="155.4" y2="344.4" stroke="#3a3a3a" stroke-width="1.8"/>
<line x1="153.6" y1="310.2" x2="157.20000000000002" y2="310.2" stroke="#3a3a3a" stroke-width="1.6"/>
<line x1="153.6" y1="344.4" x2="157.20000000000002" y2="344.4" stroke="#3a3a3a" stroke-width="1.6"/>
<circle cx="155.4" cy="326.7" r="1.9" fill="#3a3a3a"/>
<line x1="174.7" y1="331.0" x2="174.7" y2="359.3" stroke="#f02a2a" stroke-width="1.8"/>
<line x1="172.89999999999998" y1="331.0" x2="176.5" y2="331.0" stroke="#f02a2a" stroke-width="1.6"/>
<line x1="172.89999999999998" y1="359.3" x2="176.5" y2="359.3" stroke="#f02a2a" stroke-width="1.6"/>
<circle cx="174.7" cy="345.2" r="1.9" fill="#f02a2a"/>
<line x1="193.9" y1="310.2" x2="193.9" y2="347.5" stroke="#1d62e6" stroke-width="1.8"/>
<line x1="192.1" y1="310.2" x2="195.70000000000002" y2="310.2" stroke="#1d62e6" stroke-width="1.6"/>
<line x1="192.1" y1="347.5" x2="195.70000000000002" y2="347.5" stroke="#1d62e6" stroke-width="1.6"/>
<circle cx="193.9" cy="328.6" r="1.9" fill="#1d62e6"/>
<line x1="213.3" y1="304.3" x2="213.3" y2="342.1" stroke="#26a35a" stroke-width="1.8"/>
<line x1="211.5" y1="304.3" x2="215.10000000000002" y2="304.3" stroke="#26a35a" stroke-width="1.6"/>
<line x1="211.5" y1="342.1" x2="215.10000000000002" y2="342.1" stroke="#26a35a" stroke-width="1.6"/>
<circle cx="213.3" cy="323.2" r="1.9" fill="#26a35a"/>
<line x1="232.6" y1="299.5" x2="232.6" y2="340.2" stroke="#b070e6" stroke-width="1.8"/>
<line x1="230.79999999999998" y1="299.5" x2="234.4" y2="299.5" stroke="#b070e6" stroke-width="1.6"/>
<line x1="230.79999999999998" y1="340.2" x2="234.4" y2="340.2" stroke="#b070e6" stroke-width="1.6"/>
<circle cx="232.6" cy="319.6" r="1.9" fill="#b070e6"/>
<line x1="251.8" y1="283.7" x2="251.8" y2="324.8" stroke="#d39b0a" stroke-width="1.8"/>
<line x1="250.0" y1="283.7" x2="253.60000000000002" y2="283.7" stroke="#d39b0a" stroke-width="1.6"/>
<line x1="250.0" y1="324.8" x2="253.60000000000002" y2="324.8" stroke="#d39b0a" stroke-width="1.6"/>
<circle cx="251.8" cy="304.3" r="1.9" fill="#d39b0a"/>
<rect x="174.7" y="366.1" width="80.40" height="57.40" fill="#ffffff" fill-opacity="0.85" stroke="#c8c8c8" stroke-width="1"/>
<circle cx="183.70" cy="371.10" r="2.8" fill="url(#gTP)"/>
<text x="196.74" y="374.06" font-size="8.98" textLength="4.40" lengthAdjust="spacingAndGlyphs" fill="#333">T</text>
<text x="201.23" y="374.06" font-size="8.98" textLength="4.40" lengthAdjust="spacingAndGlyphs" fill="#333">h</text>
<text x="219.19" y="374.06" font-size="8.98" textLength="4.40" lengthAdjust="spacingAndGlyphs" fill="#333">P</text>
<text x="228.17" y="374.06" font-size="8.98" textLength="4.40" lengthAdjust="spacingAndGlyphs" fill="#333">p</text>
<text x="207.92 212.41 225.88 234.86 239.35" y="374.06" font-size="8.98" text-anchor="middle" fill="#333">isaer</text>
<circle cx="183.70" cy="380.60" r="2.8" fill="url(#gCA)"/>
<text x="196.74" y="383.56" font-size="8.98" textLength="4.40" lengthAdjust="spacingAndGlyphs" fill="#333">C</text>
<text x="219.19" y="383.56" font-size="8.98" textLength="4.40" lengthAdjust="spacingAndGlyphs" fill="#333">d</text>
<text x="232.66" y="383.56" font-size="8.98" textLength="4.40" lengthAdjust="spacingAndGlyphs" fill="#333">R</text>
<text x="241.64" y="383.56" font-size="8.98" textLength="4.40" lengthAdjust="spacingAndGlyphs" fill="#333">C</text>
<text x="246.13" y="383.56" font-size="8.98" textLength="4.40" lengthAdjust="spacingAndGlyphs" fill="#333">N</text>
<text x="250.62" y="383.56" font-size="8.98" textLength="4.40" lengthAdjust="spacingAndGlyphs" fill="#333">N</text>
<text x="203.44 207.92 212.41 216.91 225.88 239.35" y="383.56" font-size="8.98" text-anchor="middle" fill="#333">ascae-</text>
<circle cx="183.70" cy="390.30" r="2.8" fill="url(#gYO)"/>
<text x="196.74" y="393.26" font-size="8.98" textLength="4.40" lengthAdjust="spacingAndGlyphs" fill="#333">Y</text>
<text x="201.23" y="393.26" font-size="8.98" textLength="4.40" lengthAdjust="spacingAndGlyphs" fill="#333">O</text>
<text x="205.72" y="393.26" font-size="8.98" textLength="4.40" lengthAdjust="spacingAndGlyphs" fill="#333">L</text>
<text x="210.21" y="393.26" font-size="8.98" textLength="4.40" lengthAdjust="spacingAndGlyphs" fill="#333">O</text>
<text x="214.70" y="393.26" font-size="8.98" textLength="4.40" lengthAdjust="spacingAndGlyphs" fill="#333">v</text>
<text x="219.19" y="393.26" font-size="8.98" textLength="4.40" lengthAdjust="spacingAndGlyphs" fill="#333">4</text>
<circle cx="183.70" cy="399.90" r="2.8" fill="url(#gMA)"/>
<text x="196.74" y="402.86" font-size="8.98" textLength="4.40" lengthAdjust="spacingAndGlyphs" fill="#333">M</text>
<text x="210.21" y="402.86" font-size="8.98" textLength="4.40" lengthAdjust="spacingAndGlyphs" fill="#333">k</text>
<text x="219.19" y="402.86" font-size="8.98" textLength="4.40" lengthAdjust="spacingAndGlyphs" fill="#333">R</text>
<text x="228.17" y="402.86" font-size="8.98" textLength="4.40" lengthAdjust="spacingAndGlyphs" fill="#333">C</text>
<text x="232.66" y="402.86" font-size="8.98" textLength="4.40" lengthAdjust="spacingAndGlyphs" fill="#333">N</text>
<text x="237.15" y="402.86" font-size="8.98" textLength="4.40" lengthAdjust="spacingAndGlyphs" fill="#333">N</text>
<text x="203.44 207.92 225.88" y="402.86" font-size="8.98" text-anchor="middle" fill="#333">as-</text>
<circle cx="183.70" cy="409.60" r="2.8" fill="url(#gFA)"/>
<text x="196.74" y="412.56" font-size="8.98" textLength="4.40" lengthAdjust="spacingAndGlyphs" fill="#333">F</text>
<text x="228.17" y="412.56" font-size="8.98" textLength="4.40" lengthAdjust="spacingAndGlyphs" fill="#333">R</text>
<text x="237.15" y="412.56" font-size="8.98" textLength="4.40" lengthAdjust="spacingAndGlyphs" fill="#333">C</text>
<text x="241.64" y="412.56" font-size="8.98" textLength="4.40" lengthAdjust="spacingAndGlyphs" fill="#333">N</text>
<text x="246.13" y="412.56" font-size="8.98" textLength="4.40" lengthAdjust="spacingAndGlyphs" fill="#333">N</text>
<text x="203.44 207.92 212.41 216.91 221.39 234.86" y="412.56" font-size="8.98" text-anchor="middle" fill="#333">aster-</text>
<circle cx="183.70" cy="419.30" r="2.8" fill="url(#gRE)"/>
<text x="196.74" y="422.26" font-size="8.98" textLength="4.40" lengthAdjust="spacingAndGlyphs" fill="#333">R</text>
<text x="214.70" y="422.26" font-size="8.98" textLength="4.40" lengthAdjust="spacingAndGlyphs" fill="#333">n</text>
<text x="223.68" y="422.26" font-size="8.98" textLength="4.40" lengthAdjust="spacingAndGlyphs" fill="#333">N</text>
<text x="203.44 207.92 212.41 221.39 230.38 234.86" y="422.26" font-size="8.98" text-anchor="middle" fill="#333">etiaet</text>
<rect x="21.5" y="229.3" width="244.10" height="196.60" fill="none" stroke="#404040" stroke-width="1.4"/>
<text class="tl" x="22.70" y="242.20" font-size="11" textLength="12.80" lengthAdjust="spacingAndGlyphs">(c)</text>
<text class="tl" x="25.30" y="254.60" font-size="11" textLength="9.80" lengthAdjust="spacingAndGlyphs">F1</text>
<line x1="21.5" y1="642.10" x2="265.7" y2="642.10" stroke="#c0c0c0" stroke-width="0.9" stroke-dasharray="2.8 2.1"/>
<line x1="21.5" y1="632.15" x2="265.7" y2="632.15" stroke="#c0c0c0" stroke-width="0.9" stroke-dasharray="2.8 2.1"/>
<line x1="21.5" y1="622.20" x2="265.7" y2="622.20" stroke="#c0c0c0" stroke-width="0.9" stroke-dasharray="2.8 2.1"/>
<line x1="21.5" y1="612.25" x2="265.7" y2="612.25" stroke="#c0c0c0" stroke-width="0.9" stroke-dasharray="2.8 2.1"/>
<line x1="21.5" y1="602.30" x2="265.7" y2="602.30" stroke="#c0c0c0" stroke-width="0.9" stroke-dasharray="2.8 2.1"/>
<line x1="21.5" y1="592.35" x2="265.7" y2="592.35" stroke="#c0c0c0" stroke-width="0.9" stroke-dasharray="2.8 2.1"/>
<line x1="21.5" y1="582.40" x2="265.7" y2="582.40" stroke="#c0c0c0" stroke-width="0.9" stroke-dasharray="2.8 2.1"/>
<line x1="21.5" y1="572.45" x2="265.7" y2="572.45" stroke="#c0c0c0" stroke-width="0.9" stroke-dasharray="2.8 2.1"/>
<line x1="21.5" y1="562.50" x2="265.7" y2="562.50" stroke="#c0c0c0" stroke-width="0.9" stroke-dasharray="2.8 2.1"/>
<line x1="21.5" y1="552.55" x2="265.7" y2="552.55" stroke="#c0c0c0" stroke-width="0.9" stroke-dasharray="2.8 2.1"/>
<line x1="21.5" y1="542.60" x2="265.7" y2="542.60" stroke="#c0c0c0" stroke-width="0.9" stroke-dasharray="2.8 2.1"/>
<line x1="21.5" y1="532.65" x2="265.7" y2="532.65" stroke="#c0c0c0" stroke-width="0.9" stroke-dasharray="2.8 2.1"/>
<line x1="21.5" y1="522.70" x2="265.7" y2="522.70" stroke="#c0c0c0" stroke-width="0.9" stroke-dasharray="2.8 2.1"/>
<line x1="21.5" y1="512.75" x2="265.7" y2="512.75" stroke="#c0c0c0" stroke-width="0.9" stroke-dasharray="2.8 2.1"/>
<line x1="21.5" y1="502.80" x2="265.7" y2="502.80" stroke="#c0c0c0" stroke-width="0.9" stroke-dasharray="2.8 2.1"/>
<line x1="21.5" y1="492.85" x2="265.7" y2="492.85" stroke="#c0c0c0" stroke-width="0.9" stroke-dasharray="2.8 2.1"/>
<line x1="21.5" y1="482.90" x2="265.7" y2="482.90" stroke="#c0c0c0" stroke-width="0.9" stroke-dasharray="2.8 2.1"/>
<line x1="21.5" y1="472.95" x2="265.7" y2="472.95" stroke="#c0c0c0" stroke-width="0.9" stroke-dasharray="2.8 2.1"/>
<line x1="21.5" y1="463.00" x2="265.7" y2="463.00" stroke="#c0c0c0" stroke-width="0.9" stroke-dasharray="2.8 2.1"/>
<line x1="21.5" y1="453.05" x2="265.7" y2="453.05" stroke="#c0c0c0" stroke-width="0.9" stroke-dasharray="2.8 2.1"/>
<line x1="17.5" y1="642.10" x2="21.5" y2="642.10" stroke="#404040" stroke-width="1.4"/>
<text class="tl" x="14.3" y="645.10" font-size="8.6" text-anchor="end" textLength="4.2" lengthAdjust="spacingAndGlyphs">1</text>
<line x1="17.5" y1="632.15" x2="21.5" y2="632.15" stroke="#404040" stroke-width="1.4"/>
<text class="tl" x="14.3" y="635.15" font-size="8.6" text-anchor="end" textLength="4.2" lengthAdjust="spacingAndGlyphs">2</text>
<line x1="17.5" y1="622.20" x2="21.5" y2="622.20" stroke="#404040" stroke-width="1.4"/>
<text class="tl" x="14.3" y="625.20" font-size="8.6" text-anchor="end" textLength="4.2" lengthAdjust="spacingAndGlyphs">3</text>
<line x1="17.5" y1="612.25" x2="21.5" y2="612.25" stroke="#404040" stroke-width="1.4"/>
<text class="tl" x="14.3" y="615.25" font-size="8.6" text-anchor="end" textLength="4.2" lengthAdjust="spacingAndGlyphs">4</text>
<line x1="17.5" y1="602.30" x2="21.5" y2="602.30" stroke="#404040" stroke-width="1.4"/>
<text class="tl" x="14.3" y="605.30" font-size="8.6" text-anchor="end" textLength="4.2" lengthAdjust="spacingAndGlyphs">5</text>
<line x1="17.5" y1="592.35" x2="21.5" y2="592.35" stroke="#404040" stroke-width="1.4"/>
<text class="tl" x="14.3" y="595.35" font-size="8.6" text-anchor="end" textLength="4.2" lengthAdjust="spacingAndGlyphs">6</text>
<line x1="17.5" y1="582.40" x2="21.5" y2="582.40" stroke="#404040" stroke-width="1.4"/>
<text class="tl" x="14.3" y="585.40" font-size="8.6" text-anchor="end" textLength="4.2" lengthAdjust="spacingAndGlyphs">7</text>
<line x1="17.5" y1="572.45" x2="21.5" y2="572.45" stroke="#404040" stroke-width="1.4"/>
<text class="tl" x="14.3" y="575.45" font-size="8.6" text-anchor="end" textLength="4.2" lengthAdjust="spacingAndGlyphs">8</text>
<line x1="17.5" y1="562.50" x2="21.5" y2="562.50" stroke="#404040" stroke-width="1.4"/>
<text class="tl" x="14.3" y="565.50" font-size="8.6" text-anchor="end" textLength="4.2" lengthAdjust="spacingAndGlyphs">9</text>
<line x1="17.5" y1="552.55" x2="21.5" y2="552.55" stroke="#404040" stroke-width="1.4"/>
<text class="tl" x="14.3" y="555.55" font-size="8.6" text-anchor="end" textLength="8.4" lengthAdjust="spacingAndGlyphs">10</text>
<line x1="17.5" y1="542.60" x2="21.5" y2="542.60" stroke="#404040" stroke-width="1.4"/>
<text class="tl" x="14.3" y="545.60" font-size="8.6" text-anchor="end" textLength="8.4" lengthAdjust="spacingAndGlyphs">11</text>
<line x1="17.5" y1="532.65" x2="21.5" y2="532.65" stroke="#404040" stroke-width="1.4"/>
<text class="tl" x="14.3" y="535.65" font-size="8.6" text-anchor="end" textLength="8.4" lengthAdjust="spacingAndGlyphs">12</text>
<line x1="17.5" y1="522.70" x2="21.5" y2="522.70" stroke="#404040" stroke-width="1.4"/>
<text class="tl" x="14.3" y="525.70" font-size="8.6" text-anchor="end" textLength="8.4" lengthAdjust="spacingAndGlyphs">13</text>
<line x1="17.5" y1="512.75" x2="21.5" y2="512.75" stroke="#404040" stroke-width="1.4"/>
<text class="tl" x="14.3" y="515.75" font-size="8.6" text-anchor="end" textLength="8.4" lengthAdjust="spacingAndGlyphs">14</text>
<line x1="17.5" y1="502.80" x2="21.5" y2="502.80" stroke="#404040" stroke-width="1.4"/>
<text class="tl" x="14.3" y="505.80" font-size="8.6" text-anchor="end" textLength="8.4" lengthAdjust="spacingAndGlyphs">15</text>
<line x1="17.5" y1="492.85" x2="21.5" y2="492.85" stroke="#404040" stroke-width="1.4"/>
<text class="tl" x="14.3" y="495.85" font-size="8.6" text-anchor="end" textLength="8.4" lengthAdjust="spacingAndGlyphs">16</text>
<line x1="17.5" y1="482.90" x2="21.5" y2="482.90" stroke="#404040" stroke-width="1.4"/>
<text class="tl" x="14.3" y="485.90" font-size="8.6" text-anchor="end" textLength="8.4" lengthAdjust="spacingAndGlyphs">17</text>
<line x1="17.5" y1="472.95" x2="21.5" y2="472.95" stroke="#404040" stroke-width="1.4"/>
<text class="tl" x="14.3" y="475.95" font-size="8.6" text-anchor="end" textLength="8.4" lengthAdjust="spacingAndGlyphs">18</text>
<line x1="17.5" y1="463.00" x2="21.5" y2="463.00" stroke="#404040" stroke-width="1.4"/>
<text class="tl" x="14.3" y="466.00" font-size="8.6" text-anchor="end" textLength="8.4" lengthAdjust="spacingAndGlyphs">19</text>
<line x1="17.5" y1="453.05" x2="21.5" y2="453.05" stroke="#404040" stroke-width="1.4"/>
<text class="tl" x="14.3" y="456.05" font-size="8.6" text-anchor="end" textLength="8.4" lengthAdjust="spacingAndGlyphs">20</text>
<line x1="41.50" y1="646.0" x2="41.50" y2="649.8" stroke="#404040" stroke-width="1.4"/>
<g class="tl"><text x="39.20" y="660.60" font-size="9.2" text-anchor="end">0</text><text x="40.30" y="660.60" font-size="9.2" text-anchor="middle">.</text><text x="43.45" y="660.60" font-size="9.2" text-anchor="start">1</text></g>
<line x1="82.30" y1="646.0" x2="82.30" y2="649.8" stroke="#404040" stroke-width="1.4"/>
<g class="tl"><text x="80.00" y="660.60" font-size="9.2" text-anchor="end">0</text><text x="81.10" y="660.60" font-size="9.2" text-anchor="middle">.</text><text x="84.25" y="660.60" font-size="9.2" text-anchor="start">2</text></g>
<line x1="123.10" y1="646.0" x2="123.10" y2="649.8" stroke="#404040" stroke-width="1.4"/>
<g class="tl"><text x="120.80" y="660.60" font-size="9.2" text-anchor="end">0</text><text x="121.90" y="660.60" font-size="9.2" text-anchor="middle">.</text><text x="125.05" y="660.60" font-size="9.2" text-anchor="start">3</text></g>
<line x1="163.90" y1="646.0" x2="163.90" y2="649.8" stroke="#404040" stroke-width="1.4"/>
<g class="tl"><text x="161.60" y="660.60" font-size="9.2" text-anchor="end">0</text><text x="162.70" y="660.60" font-size="9.2" text-anchor="middle">.</text><text x="165.85" y="660.60" font-size="9.2" text-anchor="start">4</text></g>
<line x1="204.70" y1="646.0" x2="204.70" y2="649.8" stroke="#404040" stroke-width="1.4"/>
<g class="tl"><text x="202.40" y="660.60" font-size="9.2" text-anchor="end">0</text><text x="203.50" y="660.60" font-size="9.2" text-anchor="middle">.</text><text x="206.65" y="660.60" font-size="9.2" text-anchor="start">5</text></g>
<line x1="245.50" y1="646.0" x2="245.50" y2="649.8" stroke="#404040" stroke-width="1.4"/>
<g class="tl"><text x="243.20" y="660.60" font-size="9.2" text-anchor="end">0</text><text x="244.30" y="660.60" font-size="9.2" text-anchor="middle">.</text><text x="247.45" y="660.60" font-size="9.2" text-anchor="start">6</text></g>
<circle cx="225.10" cy="642.10" r="3.0" fill="url(#gRE)"/>
<circle cx="237.34" cy="642.10" r="3.0" fill="url(#gFA)"/>
<circle cx="212.86" cy="642.10" r="3.0" fill="url(#gMA)"/>
<circle cx="208.78" cy="642.10" r="3.0" fill="url(#gCA)"/>
<circle cx="200.62" cy="642.10" r="3.0" fill="url(#gTP)"/>
<circle cx="172.06" cy="632.15" r="3.0" fill="url(#gRE)"/>
<circle cx="180.22" cy="632.15" r="3.0" fill="url(#gFA)"/>
<circle cx="163.90" cy="632.15" r="3.0" fill="url(#gYO)"/>
<circle cx="167.98" cy="632.15" r="3.0" fill="url(#gTP)"/>
<circle cx="167.98" cy="622.20" r="3.0" fill="url(#gRE)"/>
<circle cx="172.06" cy="622.20" r="3.0" fill="url(#gFA)"/>
<circle cx="159.82" cy="622.20" r="3.0" fill="url(#gMA)"/>
<circle cx="155.74" cy="622.20" r="3.0" fill="url(#gYO)"/>
<circle cx="163.90" cy="622.20" r="3.0" fill="url(#gCA)"/>
<circle cx="151.66" cy="622.20" r="3.0" fill="url(#gTP)"/>
<circle cx="163.90" cy="612.25" r="3.0" fill="url(#gFA)"/>
<circle cx="159.82" cy="612.25" r="3.0" fill="url(#gMA)"/>
<circle cx="151.66" cy="612.25" r="3.0" fill="url(#gYO)"/>
<circle cx="155.74" cy="612.25" r="3.0" fill="url(#gCA)"/>
<circle cx="147.58" cy="612.25" r="3.0" fill="url(#gTP)"/>
<circle cx="159.82" cy="602.30" r="3.0" fill="url(#gFA)"/>
<circle cx="147.58" cy="602.30" r="3.0" fill="url(#gYO)"/>
<circle cx="151.66" cy="602.30" r="3.0" fill="url(#gCA)"/>
<circle cx="143.50" cy="602.30" r="3.0" fill="url(#gTP)"/>
<circle cx="159.82" cy="592.35" r="3.0" fill="url(#gFA)"/>
<circle cx="155.74" cy="592.35" r="3.0" fill="url(#gYO)"/>
<circle cx="147.58" cy="592.35" r="3.0" fill="url(#gCA)"/>
<circle cx="151.66" cy="592.35" r="3.0" fill="url(#gTP)"/>
<circle cx="151.66" cy="582.40" r="3.0" fill="url(#gFA)"/>
<circle cx="147.58" cy="582.40" r="3.0" fill="url(#gMA)"/>
<circle cx="139.42" cy="582.40" r="3.0" fill="url(#gYO)"/>
<circle cx="143.50" cy="582.40" r="3.0" fill="url(#gCA)"/>
<circle cx="135.34" cy="582.40" r="3.0" fill="url(#gTP)"/>
<circle cx="135.34" cy="572.45" r="3.0" fill="url(#gRE)"/>
<circle cx="147.58" cy="572.45" r="3.0" fill="url(#gFA)"/>
<circle cx="127.18" cy="572.45" r="3.0" fill="url(#gMA)"/>
<circle cx="123.10" cy="572.45" r="3.0" fill="url(#gCA)"/>
<circle cx="119.02" cy="572.45" r="3.0" fill="url(#gTP)"/>
<circle cx="139.42" cy="562.50" r="3.0" fill="url(#gFA)"/>
<circle cx="135.34" cy="562.50" r="3.0" fill="url(#gMA)"/>
<circle cx="127.18" cy="562.50" r="3.0" fill="url(#gCA)"/>
<circle cx="119.02" cy="562.50" r="3.0" fill="url(#gTP)"/>
<circle cx="131.26" cy="552.55" r="3.0" fill="url(#gFA)"/>
<circle cx="119.02" cy="552.55" r="3.0" fill="url(#gMA)"/>
<circle cx="110.86" cy="552.55" r="3.0" fill="url(#gYO)"/>
<circle cx="123.10" cy="552.55" r="3.0" fill="url(#gCA)"/>
<circle cx="114.94" cy="552.55" r="3.0" fill="url(#gTP)"/>
<circle cx="114.94" cy="542.60" r="3.0" fill="url(#gFA)"/>
<circle cx="102.70" cy="542.60" r="3.0" fill="url(#gMA)"/>
<circle cx="106.78" cy="542.60" r="3.0" fill="url(#gCA)"/>
<circle cx="110.86" cy="542.60" r="3.0" fill="url(#gTP)"/>
<circle cx="106.78" cy="532.65" r="3.0" fill="url(#gFA)"/>
<circle cx="98.62" cy="532.65" r="3.0" fill="url(#gCA)"/>
<circle cx="90.46" cy="532.65" r="3.0" fill="url(#gTP)"/>
<circle cx="102.70" cy="522.70" r="3.0" fill="url(#gFA)"/>
<circle cx="94.54" cy="522.70" r="3.0" fill="url(#gMA)"/>
<circle cx="86.38" cy="522.70" r="3.0" fill="url(#gYO)"/>
<circle cx="90.46" cy="522.70" r="3.0" fill="url(#gCA)"/>
<circle cx="78.22" cy="522.70" r="3.0" fill="url(#gTP)"/>
<circle cx="98.62" cy="512.75" r="3.0" fill="url(#gFA)"/>
<circle cx="82.30" cy="512.75" r="3.0" fill="url(#gMA)"/>
<circle cx="78.22" cy="512.75" r="3.0" fill="url(#gYO)"/>
<circle cx="86.38" cy="512.75" r="3.0" fill="url(#gCA)"/>
<circle cx="74.14" cy="512.75" r="3.0" fill="url(#gTP)"/>
<circle cx="90.46" cy="502.80" r="3.0" fill="url(#gRE)"/>
<circle cx="94.54" cy="502.80" r="3.0" fill="url(#gFA)"/>
<circle cx="78.22" cy="502.80" r="3.0" fill="url(#gCA)"/>
<circle cx="82.30" cy="502.80" r="3.0" fill="url(#gTP)"/>
<circle cx="90.46" cy="492.85" r="3.0" fill="url(#gFA)"/>
<circle cx="74.14" cy="492.85" r="3.0" fill="url(#gMA)"/>
<circle cx="65.98" cy="492.85" r="3.0" fill="url(#gYO)"/>
<circle cx="78.22" cy="492.85" r="3.0" fill="url(#gCA)"/>
<circle cx="61.90" cy="492.85" r="3.0" fill="url(#gTP)"/>
<circle cx="78.22" cy="482.90" r="3.0" fill="url(#gRE)"/>
<circle cx="90.46" cy="482.90" r="3.0" fill="url(#gFA)"/>
<circle cx="70.06" cy="482.90" r="3.0" fill="url(#gMA)"/>
<circle cx="65.98" cy="482.90" r="3.0" fill="url(#gCA)"/>
<circle cx="61.90" cy="482.90" r="3.0" fill="url(#gTP)"/>
<circle cx="74.14" cy="472.95" r="3.0" fill="url(#gRE)"/>
<circle cx="86.38" cy="472.95" r="3.0" fill="url(#gFA)"/>
<circle cx="70.06" cy="472.95" r="3.0" fill="url(#gCA)"/>
<circle cx="61.90" cy="472.95" r="3.0" fill="url(#gTP)"/>
<circle cx="70.06" cy="463.00" r="3.0" fill="url(#gRE)"/>
<circle cx="78.22" cy="463.00" r="3.0" fill="url(#gFA)"/>
<circle cx="65.98" cy="463.00" r="3.0" fill="url(#gMA)"/>
<circle cx="57.82" cy="463.00" r="3.0" fill="url(#gYO)"/>
<circle cx="61.90" cy="463.00" r="3.0" fill="url(#gCA)"/>
<circle cx="49.66" cy="463.00" r="3.0" fill="url(#gTP)"/>
<circle cx="78.22" cy="453.05" r="3.0" fill="url(#gRE)"/>
<circle cx="74.14" cy="453.05" r="3.0" fill="url(#gFA)"/>
<circle cx="61.90" cy="453.05" r="3.0" fill="url(#gMA)"/>
<circle cx="57.82" cy="453.05" r="3.0" fill="url(#gCA)"/>
<circle cx="37.42" cy="453.05" r="3.0" fill="url(#gTP)"/>
<rect x="25.2" y="545.9" width="105.40" height="93.40" fill="none" stroke="#c4c4c4" stroke-width="1.1"/>
<line x1="34.2" y1="564.1" x2="34.2" y2="616.1" stroke="#3a3a3a" stroke-width="1.8"/>
<line x1="32.400000000000006" y1="564.1" x2="36.0" y2="564.1" stroke="#3a3a3a" stroke-width="1.6"/>
<line x1="32.400000000000006" y1="616.1" x2="36.0" y2="616.1" stroke="#3a3a3a" stroke-width="1.6"/>
<circle cx="34.2" cy="590.1" r="1.9" fill="#3a3a3a"/>
<line x1="51.4" y1="551.8" x2="51.4" y2="604.3" stroke="#f02a2a" stroke-width="1.8"/>
<line x1="49.6" y1="551.8" x2="53.199999999999996" y2="551.8" stroke="#f02a2a" stroke-width="1.6"/>
<line x1="49.6" y1="604.3" x2="53.199999999999996" y2="604.3" stroke="#f02a2a" stroke-width="1.6"/>
<circle cx="51.4" cy="578.3" r="1.9" fill="#f02a2a"/>
<line x1="69.2" y1="568.8" x2="69.2" y2="620.8" stroke="#1d62e6" stroke-width="1.8"/>
<line x1="67.4" y1="568.8" x2="71.0" y2="568.8" stroke="#1d62e6" stroke-width="1.6"/>
<line x1="67.4" y1="620.8" x2="71.0" y2="620.8" stroke="#1d62e6" stroke-width="1.6"/>
<circle cx="69.2" cy="594.8" r="1.9" fill="#1d62e6"/>
<line x1="86.6" y1="574.7" x2="86.6" y2="627.9" stroke="#26a35a" stroke-width="1.8"/>
<line x1="84.8" y1="574.7" x2="88.39999999999999" y2="574.7" stroke="#26a35a" stroke-width="1.6"/>
<line x1="84.8" y1="627.9" x2="88.39999999999999" y2="627.9" stroke="#26a35a" stroke-width="1.6"/>
<circle cx="86.6" cy="601.5" r="1.9" fill="#26a35a"/>
<line x1="103.9" y1="570.3" x2="103.9" y2="622.2" stroke="#b070e6" stroke-width="1.8"/>
<line x1="102.10000000000001" y1="570.3" x2="105.7" y2="570.3" stroke="#b070e6" stroke-width="1.6"/>
<line x1="102.10000000000001" y1="622.2" x2="105.7" y2="622.2" stroke="#b070e6" stroke-width="1.6"/>
<circle cx="103.9" cy="596.3" r="1.9" fill="#b070e6"/>
<line x1="121.6" y1="578.5" x2="121.6" y2="632.9" stroke="#d39b0a" stroke-width="1.8"/>
<line x1="119.8" y1="578.5" x2="123.39999999999999" y2="578.5" stroke="#d39b0a" stroke-width="1.6"/>
<line x1="119.8" y1="632.9" x2="123.39999999999999" y2="632.9" stroke="#d39b0a" stroke-width="1.6"/>
<circle cx="121.6" cy="606.2" r="1.9" fill="#d39b0a"/>
<rect x="131.7" y="471.5" width="94.70" height="67.60" fill="#ffffff" fill-opacity="0.85" stroke="#c8c8c8" stroke-width="1"/>
<circle cx="142.60" cy="476.90" r="3.0" fill="url(#gTP)"/>
<text x="158.25" y="480.36" font-size="10.50" textLength="5.14" lengthAdjust="spacingAndGlyphs" fill="#333">T</text>
<text x="163.50" y="480.36" font-size="10.50" textLength="5.14" lengthAdjust="spacingAndGlyphs" fill="#333">h</text>
<text x="184.50" y="480.36" font-size="10.50" textLength="5.14" lengthAdjust="spacingAndGlyphs" fill="#333">P</text>
<text x="195.00" y="480.36" font-size="10.50" textLength="5.14" lengthAdjust="spacingAndGlyphs" fill="#333">p</text>
<text x="171.32 176.57 192.32 202.82 208.07" y="480.36" font-size="10.50" text-anchor="middle" fill="#333">isaer</text>
<circle cx="142.60" cy="488.20" r="3.0" fill="url(#gCA)"/>
<text x="158.25" y="491.66" font-size="10.50" textLength="5.14" lengthAdjust="spacingAndGlyphs" fill="#333">C</text>
<text x="184.50" y="491.66" font-size="10.50" textLength="5.14" lengthAdjust="spacingAndGlyphs" fill="#333">d</text>
<text x="200.25" y="491.66" font-size="10.50" textLength="5.14" lengthAdjust="spacingAndGlyphs" fill="#333">R</text>
<text x="210.75" y="491.66" font-size="10.50" textLength="5.14" lengthAdjust="spacingAndGlyphs" fill="#333">C</text>
<text x="216.00" y="491.66" font-size="10.50" textLength="5.14" lengthAdjust="spacingAndGlyphs" fill="#333">N</text>
<text x="221.25" y="491.66" font-size="10.50" textLength="5.14" lengthAdjust="spacingAndGlyphs" fill="#333">N</text>
<text x="166.07 171.32 176.57 181.82 192.32 208.07" y="491.66" font-size="10.50" text-anchor="middle" fill="#333">ascae-</text>
<circle cx="142.60" cy="499.50" r="3.0" fill="url(#gYO)"/>
<text x="158.25" y="502.96" font-size="10.50" textLength="5.14" lengthAdjust="spacingAndGlyphs" fill="#333">Y</text>
<text x="163.50" y="502.96" font-size="10.50" textLength="5.14" lengthAdjust="spacingAndGlyphs" fill="#333">O</text>
<text x="168.75" y="502.96" font-size="10.50" textLength="5.14" lengthAdjust="spacingAndGlyphs" fill="#333">L</text>
<text x="174.00" y="502.96" font-size="10.50" textLength="5.14" lengthAdjust="spacingAndGlyphs" fill="#333">O</text>
<text x="179.25" y="502.96" font-size="10.50" textLength="5.14" lengthAdjust="spacingAndGlyphs" fill="#333">v</text>
<text x="184.50" y="502.96" font-size="10.50" textLength="5.14" lengthAdjust="spacingAndGlyphs" fill="#333">4</text>
<circle cx="142.60" cy="511.00" r="3.0" fill="url(#gMA)"/>
<text x="158.25" y="514.47" font-size="10.50" textLength="5.14" lengthAdjust="spacingAndGlyphs" fill="#333">M</text>
<text x="174.00" y="514.47" font-size="10.50" textLength="5.14" lengthAdjust="spacingAndGlyphs" fill="#333">k</text>
<text x="184.50" y="514.47" font-size="10.50" textLength="5.14" lengthAdjust="spacingAndGlyphs" fill="#333">R</text>
<text x="195.00" y="514.47" font-size="10.50" textLength="5.14" lengthAdjust="spacingAndGlyphs" fill="#333">C</text>
<text x="200.25" y="514.47" font-size="10.50" textLength="5.14" lengthAdjust="spacingAndGlyphs" fill="#333">N</text>
<text x="205.50" y="514.47" font-size="10.50" textLength="5.14" lengthAdjust="spacingAndGlyphs" fill="#333">N</text>
<text x="166.07 171.32 192.32" y="514.47" font-size="10.50" text-anchor="middle" fill="#333">as-</text>
<circle cx="142.60" cy="522.50" r="3.0" fill="url(#gFA)"/>
<text x="158.25" y="525.97" font-size="10.50" textLength="5.14" lengthAdjust="spacingAndGlyphs" fill="#333">F</text>
<text x="195.00" y="525.97" font-size="10.50" textLength="5.14" lengthAdjust="spacingAndGlyphs" fill="#333">R</text>
<text x="205.50" y="525.97" font-size="10.50" textLength="5.14" lengthAdjust="spacingAndGlyphs" fill="#333">C</text>
<text x="210.75" y="525.97" font-size="10.50" textLength="5.14" lengthAdjust="spacingAndGlyphs" fill="#333">N</text>
<text x="216.00" y="525.97" font-size="10.50" textLength="5.14" lengthAdjust="spacingAndGlyphs" fill="#333">N</text>
<text x="166.07 171.32 176.57 181.82 187.07 202.82" y="525.97" font-size="10.50" text-anchor="middle" fill="#333">aster-</text>
<circle cx="142.60" cy="533.60" r="3.0" fill="url(#gRE)"/>
<text x="158.25" y="537.07" font-size="10.50" textLength="5.14" lengthAdjust="spacingAndGlyphs" fill="#333">R</text>
<text x="179.25" y="537.07" font-size="10.50" textLength="5.14" lengthAdjust="spacingAndGlyphs" fill="#333">n</text>
<text x="189.75" y="537.07" font-size="10.50" textLength="5.14" lengthAdjust="spacingAndGlyphs" fill="#333">N</text>
<text x="166.07 171.32 176.57 187.07 197.57 202.82" y="537.07" font-size="10.50" text-anchor="middle" fill="#333">etiaet</text>
<rect x="21.5" y="449.1" width="244.20" height="196.90" fill="none" stroke="#404040" stroke-width="1.4"/>
<text class="tl" x="245.60" y="460.70" font-size="10" textLength="12.30" lengthAdjust="spacingAndGlyphs">(e)</text>
<text class="tl" x="238.40" y="474.50" font-size="11" textLength="21.10" lengthAdjust="spacingAndGlyphs">LAMR</text>
<line x1="319.01" y1="67.53" x2="319.01" y2="39.87" stroke="#a0a0a0" stroke-width="1.1"/>
<line x1="312.41" y1="39.87" x2="325.61" y2="39.87" stroke="#a0a0a0" stroke-width="1.1"/>
<rect x="305.76" y="67.53" width="26.5" height="134.77" fill="#f6cb9b" stroke="#8c8c8c" stroke-width="0.8"/>
<line x1="359.83" y1="72.53" x2="359.83" y2="40.76" stroke="#a0a0a0" stroke-width="1.1"/>
<line x1="353.23" y1="40.76" x2="366.43" y2="40.76" stroke="#a0a0a0" stroke-width="1.1"/>
<rect x="346.58" y="72.53" width="26.5" height="129.77" fill="#a4d8a2" stroke="#8c8c8c" stroke-width="0.8"/>
<line x1="400.65" y1="67.00" x2="400.65" y2="39.87" stroke="#a0a0a0" stroke-width="1.1"/>
<line x1="394.05" y1="39.87" x2="407.25" y2="39.87" stroke="#a0a0a0" stroke-width="1.1"/>
<rect x="387.40" y="67.00" width="26.5" height="135.30" fill="#c7b8df" stroke="#8c8c8c" stroke-width="0.8"/>
<line x1="441.47" y1="65.39" x2="441.47" y2="38.08" stroke="#a0a0a0" stroke-width="1.1"/>
<line x1="434.87" y1="38.08" x2="448.07" y2="38.08" stroke="#a0a0a0" stroke-width="1.1"/>
<rect x="428.22" y="65.39" width="26.5" height="136.91" fill="#f6f5a6" stroke="#8c8c8c" stroke-width="0.8"/>
<line x1="482.29" y1="66.10" x2="482.29" y2="39.87" stroke="#a0a0a0" stroke-width="1.1"/>
<line x1="475.69" y1="39.87" x2="488.89" y2="39.87" stroke="#a0a0a0" stroke-width="1.1"/>
<rect x="469.04" y="66.10" width="26.5" height="136.20" fill="#a2bff4" stroke="#8c8c8c" stroke-width="0.8"/>
<line x1="523.11" y1="63.07" x2="523.11" y2="36.30" stroke="#a0a0a0" stroke-width="1.1"/>
<line x1="516.51" y1="36.30" x2="529.71" y2="36.30" stroke="#a0a0a0" stroke-width="1.1"/>
<rect x="509.86" y="63.07" width="26.5" height="139.23" fill="#f8b7f6" stroke="#8c8c8c" stroke-width="0.8"/>
<rect x="315.60" y="37.50" width="4.00" height="4.00" fill="#7b0af5" transform="rotate(45 317.60 39.50)"/>
<rect x="316.90" y="39.50" width="4.00" height="4.00" fill="#7b0af5" transform="rotate(45 318.90 41.50)"/>
<rect x="318.00" y="41.50" width="4.00" height="4.00" fill="#7b0af5" transform="rotate(45 320.00 43.50)"/>
<rect x="318.50" y="43.50" width="4.00" height="4.00" fill="#7b0af5" transform="rotate(45 320.50 45.50)"/>
<rect x="317.20" y="46.60" width="4.00" height="4.00" fill="#7b0af5" transform="rotate(45 319.20 48.60)"/>
<rect x="314.20" y="51.60" width="4.00" height="4.00" fill="#7b0af5" transform="rotate(45 316.20 53.60)"/>
<rect x="312.20" y="53.40" width="4.00" height="4.00" fill="#7b0af5" transform="rotate(45 314.20 55.40)"/>
<rect x="318.30" y="55.70" width="4.00" height="4.00" fill="#7b0af5" transform="rotate(45 320.30 57.70)"/>
<rect x="319.00" y="60.40" width="4.00" height="4.00" fill="#7b0af5" transform="rotate(45 321.00 62.40)"/>
<rect x="313.50" y="65.80" width="4.00" height="4.00" fill="#7b0af5" transform="rotate(45 315.50 67.80)"/>
<rect x="316.20" y="69.90" width="4.00" height="4.00" fill="#7b0af5" transform="rotate(45 318.20 71.90)"/>
<rect x="320.30" y="78.70" width="4.00" height="4.00" fill="#7b0af5" transform="rotate(45 322.30 80.70)"/>
<rect x="318.00" y="80.70" width="4.00" height="4.00" fill="#7b0af5" transform="rotate(45 320.00 82.70)"/>
<rect x="316.60" y="82.70" width="4.00" height="4.00" fill="#7b0af5" transform="rotate(45 318.60 84.70)"/>
<rect x="312.60" y="83.40" width="4.00" height="4.00" fill="#7b0af5" transform="rotate(45 314.60 85.40)"/>
<rect x="314.50" y="89.50" width="4.00" height="4.00" fill="#7b0af5" transform="rotate(45 316.50 91.50)"/>
<rect x="314.90" y="104.40" width="4.00" height="4.00" fill="#7b0af5" transform="rotate(45 316.90 106.40)"/>
<rect x="313.50" y="105.70" width="4.00" height="4.00" fill="#7b0af5" transform="rotate(45 315.50 107.70)"/>
<rect x="355.20" y="42.50" width="4.00" height="4.00" fill="#7b0af5" transform="rotate(45 357.20 44.50)"/>
<rect x="358.40" y="42.50" width="4.00" height="4.00" fill="#7b0af5" transform="rotate(45 360.40 44.50)"/>
<rect x="355.70" y="46.60" width="4.00" height="4.00" fill="#7b0af5" transform="rotate(45 357.70 48.60)"/>
<rect x="356.60" y="50.10" width="4.00" height="4.00" fill="#7b0af5" transform="rotate(45 358.60 52.10)"/>
<rect x="356.90" y="55.30" width="4.00" height="4.00" fill="#7b0af5" transform="rotate(45 358.90 57.30)"/>
<rect x="354.70" y="60.30" width="4.00" height="4.00" fill="#7b0af5" transform="rotate(45 356.70 62.30)"/>
<rect x="359.50" y="60.70" width="4.00" height="4.00" fill="#7b0af5" transform="rotate(45 361.50 62.70)"/>
<rect x="356.20" y="67.30" width="4.00" height="4.00" fill="#7b0af5" transform="rotate(45 358.20 69.30)"/>
<rect x="356.60" y="71.60" width="4.00" height="4.00" fill="#7b0af5" transform="rotate(45 358.60 73.60)"/>
<rect x="356.90" y="85.90" width="4.00" height="4.00" fill="#7b0af5" transform="rotate(45 358.90 87.90)"/>
<rect x="360.50" y="85.90" width="4.00" height="4.00" fill="#7b0af5" transform="rotate(45 362.50 87.90)"/>
<rect x="359.10" y="92.70" width="4.00" height="4.00" fill="#7b0af5" transform="rotate(45 361.10 94.70)"/>
<rect x="361.00" y="95.20" width="4.00" height="4.00" fill="#7b0af5" transform="rotate(45 363.00 97.20)"/>
<rect x="354.70" y="98.50" width="4.00" height="4.00" fill="#7b0af5" transform="rotate(45 356.70 100.50)"/>
<rect x="357.30" y="109.80" width="4.00" height="4.00" fill="#7b0af5" transform="rotate(45 359.30 111.80)"/>
<rect x="356.60" y="111.20" width="4.00" height="4.00" fill="#7b0af5" transform="rotate(45 358.60 113.20)"/>
<rect x="393.60" y="37.50" width="4.00" height="4.00" fill="#7b0af5" transform="rotate(45 395.60 39.50)"/>
<rect x="402.70" y="39.30" width="4.00" height="4.00" fill="#7b0af5" transform="rotate(45 404.70 41.30)"/>
<rect x="397.60" y="42.50" width="4.00" height="4.00" fill="#7b0af5" transform="rotate(45 399.60 44.50)"/>
<rect x="399.80" y="44.70" width="4.00" height="4.00" fill="#7b0af5" transform="rotate(45 401.80 46.70)"/>
<rect x="397.60" y="47.60" width="4.00" height="4.00" fill="#7b0af5" transform="rotate(45 399.60 49.60)"/>
<rect x="402.00" y="49.80" width="4.00" height="4.00" fill="#7b0af5" transform="rotate(45 404.00 51.80)"/>
<rect x="404.90" y="53.90" width="4.00" height="4.00" fill="#7b0af5" transform="rotate(45 406.90 55.90)"/>
<rect x="398.40" y="54.20" width="4.00" height="4.00" fill="#7b0af5" transform="rotate(45 400.40 56.20)"/>
<rect x="397.60" y="55.90" width="4.00" height="4.00" fill="#7b0af5" transform="rotate(45 399.60 57.90)"/>
<rect x="396.20" y="62.60" width="4.00" height="4.00" fill="#7b0af5" transform="rotate(45 398.20 64.60)"/>
<rect x="399.80" y="64.10" width="4.00" height="4.00" fill="#7b0af5" transform="rotate(45 401.80 66.10)"/>
<rect x="396.90" y="68.00" width="4.00" height="4.00" fill="#7b0af5" transform="rotate(45 398.90 70.00)"/>
<rect x="399.80" y="77.00" width="4.00" height="4.00" fill="#7b0af5" transform="rotate(45 401.80 79.00)"/>
<rect x="398.80" y="82.50" width="4.00" height="4.00" fill="#7b0af5" transform="rotate(45 400.80 84.50)"/>
<rect x="400.50" y="84.00" width="4.00" height="4.00" fill="#7b0af5" transform="rotate(45 402.50 86.00)"/>
<rect x="402.70" y="89.80" width="4.00" height="4.00" fill="#7b0af5" transform="rotate(45 404.70 91.80)"/>
<rect x="397.60" y="99.60" width="4.00" height="4.00" fill="#7b0af5" transform="rotate(45 399.60 101.60)"/>
<rect x="399.40" y="102.20" width="4.00" height="4.00" fill="#7b0af5" transform="rotate(45 401.40 104.20)"/>
<rect x="438.70" y="35.00" width="4.00" height="4.00" fill="#7b0af5" transform="rotate(45 440.70 37.00)"/>
<rect x="442.00" y="35.60" width="4.00" height="4.00" fill="#7b0af5" transform="rotate(45 444.00 37.60)"/>
<rect x="439.40" y="37.80" width="4.00" height="4.00" fill="#7b0af5" transform="rotate(45 441.40 39.80)"/>
<rect x="439.80" y="41.10" width="4.00" height="4.00" fill="#7b0af5" transform="rotate(45 441.80 43.10)"/>
<rect x="440.90" y="43.70" width="4.00" height="4.00" fill="#7b0af5" transform="rotate(45 442.90 45.70)"/>
<rect x="438.70" y="47.60" width="4.00" height="4.00" fill="#7b0af5" transform="rotate(45 440.70 49.60)"/>
<rect x="440.30" y="49.80" width="4.00" height="4.00" fill="#7b0af5" transform="rotate(45 442.30 51.80)"/>
<rect x="437.60" y="52.40" width="4.00" height="4.00" fill="#7b0af5" transform="rotate(45 439.60 54.40)"/>
<rect x="439.40" y="55.90" width="4.00" height="4.00" fill="#7b0af5" transform="rotate(45 441.40 57.90)"/>
<rect x="441.60" y="64.70" width="4.00" height="4.00" fill="#7b0af5" transform="rotate(45 443.60 66.70)"/>
<rect x="442.00" y="66.80" width="4.00" height="4.00" fill="#7b0af5" transform="rotate(45 444.00 68.80)"/>
<rect x="437.60" y="69.50" width="4.00" height="4.00" fill="#7b0af5" transform="rotate(45 439.60 71.50)"/>
<rect x="441.60" y="78.60" width="4.00" height="4.00" fill="#7b0af5" transform="rotate(45 443.60 80.60)"/>
<rect x="437.60" y="82.10" width="4.00" height="4.00" fill="#7b0af5" transform="rotate(45 439.60 84.10)"/>
<rect x="442.40" y="84.30" width="4.00" height="4.00" fill="#7b0af5" transform="rotate(45 444.40 86.30)"/>
<rect x="439.80" y="87.30" width="4.00" height="4.00" fill="#7b0af5" transform="rotate(45 441.80 89.30)"/>
<rect x="441.60" y="93.00" width="4.00" height="4.00" fill="#7b0af5" transform="rotate(45 443.60 95.00)"/>
<rect x="435.00" y="96.70" width="4.00" height="4.00" fill="#7b0af5" transform="rotate(45 437.00 98.70)"/>
<rect x="479.50" y="37.80" width="4.00" height="4.00" fill="#7b0af5" transform="rotate(45 481.50 39.80)"/>
<rect x="476.90" y="41.50" width="4.00" height="4.00" fill="#7b0af5" transform="rotate(45 478.90 43.50)"/>
<rect x="480.20" y="43.30" width="4.00" height="4.00" fill="#7b0af5" transform="rotate(45 482.20 45.30)"/>
<rect x="476.50" y="47.20" width="4.00" height="4.00" fill="#7b0af5" transform="rotate(45 478.50 49.20)"/>
<rect x="479.50" y="52.00" width="4.00" height="4.00" fill="#7b0af5" transform="rotate(45 481.50 54.00)"/>
<rect x="483.00" y="57.50" width="4.00" height="4.00" fill="#7b0af5" transform="rotate(45 485.00 59.50)"/>
<rect x="476.90" y="59.60" width="4.00" height="4.00" fill="#7b0af5" transform="rotate(45 478.90 61.60)"/>
<rect x="478.70" y="65.10" width="4.00" height="4.00" fill="#7b0af5" transform="rotate(45 480.70 67.10)"/>
<rect x="481.30" y="68.40" width="4.00" height="4.00" fill="#7b0af5" transform="rotate(45 483.30 70.40)"/>
<rect x="479.10" y="69.90" width="4.00" height="4.00" fill="#7b0af5" transform="rotate(45 481.10 71.90)"/>
<rect x="479.50" y="77.10" width="4.00" height="4.00" fill="#7b0af5" transform="rotate(45 481.50 79.10)"/>
<rect x="480.20" y="79.30" width="4.00" height="4.00" fill="#7b0af5" transform="rotate(45 482.20 81.30)"/>
<rect x="483.00" y="84.30" width="4.00" height="4.00" fill="#7b0af5" transform="rotate(45 485.00 86.30)"/>
<rect x="483.50" y="86.50" width="4.00" height="4.00" fill="#7b0af5" transform="rotate(45 485.50 88.50)"/>
<rect x="479.50" y="94.50" width="4.00" height="4.00" fill="#7b0af5" transform="rotate(45 481.50 96.50)"/>
<rect x="480.20" y="105.50" width="4.00" height="4.00" fill="#7b0af5" transform="rotate(45 482.20 107.50)"/>
<rect x="520.10" y="33.50" width="4.00" height="4.00" fill="#7b0af5" transform="rotate(45 522.10 35.50)"/>
<rect x="518.40" y="37.20" width="4.00" height="4.00" fill="#7b0af5" transform="rotate(45 520.40 39.20)"/>
<rect x="520.60" y="38.50" width="4.00" height="4.00" fill="#7b0af5" transform="rotate(45 522.60 40.50)"/>
<rect x="523.80" y="42.80" width="4.00" height="4.00" fill="#7b0af5" transform="rotate(45 525.80 44.80)"/>
<rect x="517.90" y="49.80" width="4.00" height="4.00" fill="#7b0af5" transform="rotate(45 519.90 51.80)"/>
<rect x="520.60" y="52.40" width="4.00" height="4.00" fill="#7b0af5" transform="rotate(45 522.60 54.40)"/>
<rect x="522.70" y="53.70" width="4.00" height="4.00" fill="#7b0af5" transform="rotate(45 524.70 55.70)"/>
<rect x="524.90" y="55.30" width="4.00" height="4.00" fill="#7b0af5" transform="rotate(45 526.90 57.30)"/>
<rect x="522.30" y="61.80" width="4.00" height="4.00" fill="#7b0af5" transform="rotate(45 524.30 63.80)"/>
<rect x="517.30" y="66.20" width="4.00" height="4.00" fill="#7b0af5" transform="rotate(45 519.30 68.20)"/>
<rect x="524.50" y="66.80" width="4.00" height="4.00" fill="#7b0af5" transform="rotate(45 526.50 68.80)"/>
<rect x="519.50" y="74.90" width="4.00" height="4.00" fill="#7b0af5" transform="rotate(45 521.50 76.90)"/>
<rect x="518.80" y="78.60" width="4.00" height="4.00" fill="#7b0af5" transform="rotate(45 520.80 80.60)"/>
<rect x="520.60" y="80.80" width="4.00" height="4.00" fill="#7b0af5" transform="rotate(45 522.60 82.80)"/>
<rect x="518.40" y="90.20" width="4.00" height="4.00" fill="#7b0af5" transform="rotate(45 520.40 92.20)"/>
<rect x="520.60" y="92.40" width="4.00" height="4.00" fill="#7b0af5" transform="rotate(45 522.60 94.40)"/>
<rect x="298.6" y="5.9" width="244.90" height="196.40" fill="none" stroke="#404040" stroke-width="1.4"/>
<line x1="294.6" y1="202.30" x2="298.6" y2="202.30" stroke="#404040" stroke-width="1.4"/>
<g class="tl"><text x="283.20" y="205.80" font-size="9.2" text-anchor="end">0</text><text x="284.30" y="205.80" font-size="9.2" text-anchor="middle">.</text><text x="287.45" y="205.80" font-size="9.2" text-anchor="start">0</text></g>
<line x1="294.6" y1="166.60" x2="298.6" y2="166.60" stroke="#404040" stroke-width="1.4"/>
<g class="tl"><text x="283.20" y="170.10" font-size="9.2" text-anchor="end">0</text><text x="284.30" y="170.10" font-size="9.2" text-anchor="middle">.</text><text x="287.45" y="170.10" font-size="9.2" text-anchor="start">2</text></g>
<line x1="294.6" y1="130.90" x2="298.6" y2="130.90" stroke="#404040" stroke-width="1.4"/>
<g class="tl"><text x="283.20" y="134.40" font-size="9.2" text-anchor="end">0</text><text x="284.30" y="134.40" font-size="9.2" text-anchor="middle">.</text><text x="287.45" y="134.40" font-size="9.2" text-anchor="start">4</text></g>
<line x1="294.6" y1="95.20" x2="298.6" y2="95.20" stroke="#404040" stroke-width="1.4"/>
<g class="tl"><text x="283.20" y="98.70" font-size="9.2" text-anchor="end">0</text><text x="284.30" y="98.70" font-size="9.2" text-anchor="middle">.</text><text x="287.45" y="98.70" font-size="9.2" text-anchor="start">6</text></g>
<line x1="294.6" y1="59.50" x2="298.6" y2="59.50" stroke="#404040" stroke-width="1.4"/>
<g class="tl"><text x="283.20" y="63.00" font-size="9.2" text-anchor="end">0</text><text x="284.30" y="63.00" font-size="9.2" text-anchor="middle">.</text><text x="287.45" y="63.00" font-size="9.2" text-anchor="start">8</text></g>
<line x1="294.6" y1="23.80" x2="298.6" y2="23.80" stroke="#404040" stroke-width="1.4"/>
<g class="tl"><text x="283.20" y="27.30" font-size="9.2" text-anchor="end">1</text><text x="284.30" y="27.30" font-size="9.2" text-anchor="middle">.</text><text x="287.45" y="27.30" font-size="9.2" text-anchor="start">0</text></g>
<rect x="340.7" y="7.9" width="48.60" height="34.20" fill="#ffffff" fill-opacity="0.85" stroke="#c8c8c8" stroke-width="0.9"/>
<rect x="341.5" y="8.40" width="10.10" height="5.00" fill="#f6cb9b" stroke="#8c8c8c" stroke-width="0.7"/>
<text x="354.13" y="12.67" font-size="5.36" textLength="2.63" lengthAdjust="spacingAndGlyphs" fill="#333">R</text>
<text x="364.85" y="12.67" font-size="5.36" textLength="2.63" lengthAdjust="spacingAndGlyphs" fill="#333">n</text>
<text x="370.21" y="12.67" font-size="5.36" textLength="2.63" lengthAdjust="spacingAndGlyphs" fill="#333">N</text>
<text x="358.12 360.80 363.48 368.84 374.20 376.88" y="12.67" font-size="5.36" text-anchor="middle" fill="#333">etiaet</text>
<rect x="341.5" y="14.10" width="10.10" height="5.00" fill="#a4d8a2" stroke="#8c8c8c" stroke-width="0.7"/>
<text x="354.13" y="18.37" font-size="5.36" textLength="2.63" lengthAdjust="spacingAndGlyphs" fill="#333">F</text>
<text x="372.89" y="18.37" font-size="5.36" textLength="2.63" lengthAdjust="spacingAndGlyphs" fill="#333">R</text>
<text x="378.25" y="18.37" font-size="5.36" textLength="2.63" lengthAdjust="spacingAndGlyphs" fill="#333">C</text>
<text x="380.93" y="18.37" font-size="5.36" textLength="2.63" lengthAdjust="spacingAndGlyphs" fill="#333">N</text>
<text x="383.61" y="18.37" font-size="5.36" textLength="2.63" lengthAdjust="spacingAndGlyphs" fill="#333">N</text>
<text x="358.12 360.80 363.48 366.16 368.84 376.88" y="18.37" font-size="5.36" text-anchor="middle" fill="#333">aster-</text>
<rect x="341.5" y="19.90" width="10.10" height="5.00" fill="#c7b8df" stroke="#8c8c8c" stroke-width="0.7"/>
<text x="354.13" y="24.17" font-size="5.36" textLength="2.63" lengthAdjust="spacingAndGlyphs" fill="#333">M</text>
<text x="362.17" y="24.17" font-size="5.36" textLength="2.63" lengthAdjust="spacingAndGlyphs" fill="#333">k</text>
<text x="367.53" y="24.17" font-size="5.36" textLength="2.63" lengthAdjust="spacingAndGlyphs" fill="#333">R</text>
<text x="372.89" y="24.17" font-size="5.36" textLength="2.63" lengthAdjust="spacingAndGlyphs" fill="#333">C</text>
<text x="375.57" y="24.17" font-size="5.36" textLength="2.63" lengthAdjust="spacingAndGlyphs" fill="#333">N</text>
<text x="378.25" y="24.17" font-size="5.36" textLength="2.63" lengthAdjust="spacingAndGlyphs" fill="#333">N</text>
<text x="358.12 360.80 371.52" y="24.17" font-size="5.36" text-anchor="middle" fill="#333">as-</text>
<rect x="341.5" y="25.60" width="10.10" height="5.00" fill="#f6f5a6" stroke="#8c8c8c" stroke-width="0.7"/>
<text x="354.13" y="29.87" font-size="5.36" textLength="2.63" lengthAdjust="spacingAndGlyphs" fill="#333">Y</text>
<text x="356.81" y="29.87" font-size="5.36" textLength="2.63" lengthAdjust="spacingAndGlyphs" fill="#333">O</text>
<text x="359.49" y="29.87" font-size="5.36" textLength="2.63" lengthAdjust="spacingAndGlyphs" fill="#333">L</text>
<text x="362.17" y="29.87" font-size="5.36" textLength="2.63" lengthAdjust="spacingAndGlyphs" fill="#333">O</text>
<text x="364.85" y="29.87" font-size="5.36" textLength="2.63" lengthAdjust="spacingAndGlyphs" fill="#333">v</text>
<text x="367.53" y="29.87" font-size="5.36" textLength="2.63" lengthAdjust="spacingAndGlyphs" fill="#333">4</text>
<rect x="341.5" y="31.40" width="10.10" height="5.00" fill="#a2bff4" stroke="#8c8c8c" stroke-width="0.7"/>
<text x="354.13" y="35.67" font-size="5.36" textLength="2.63" lengthAdjust="spacingAndGlyphs" fill="#333">C</text>
<text x="367.53" y="35.67" font-size="5.36" textLength="2.63" lengthAdjust="spacingAndGlyphs" fill="#333">d</text>
<text x="375.57" y="35.67" font-size="5.36" textLength="2.63" lengthAdjust="spacingAndGlyphs" fill="#333">R</text>
<text x="380.93" y="35.67" font-size="5.36" textLength="2.63" lengthAdjust="spacingAndGlyphs" fill="#333">C</text>
<text x="383.61" y="35.67" font-size="5.36" textLength="2.63" lengthAdjust="spacingAndGlyphs" fill="#333">N</text>
<text x="386.29" y="35.67" font-size="5.36" textLength="2.63" lengthAdjust="spacingAndGlyphs" fill="#333">N</text>
<text x="358.12 360.80 363.48 366.16 371.52 379.56" y="35.67" font-size="5.36" text-anchor="middle" fill="#333">ascae-</text>
<rect x="341.5" y="37.00" width="10.10" height="5.00" fill="#f8b7f6" stroke="#8c8c8c" stroke-width="0.7"/>
<text x="354.13" y="41.27" font-size="5.36" textLength="2.63" lengthAdjust="spacingAndGlyphs" fill="#333">T</text>
<text x="356.81" y="41.27" font-size="5.36" textLength="2.63" lengthAdjust="spacingAndGlyphs" fill="#333">h</text>
<text x="367.53" y="41.27" font-size="5.36" textLength="2.63" lengthAdjust="spacingAndGlyphs" fill="#333">P</text>
<text x="372.89" y="41.27" font-size="5.36" textLength="2.63" lengthAdjust="spacingAndGlyphs" fill="#333">p</text>
<text x="360.80 363.48 371.52 376.88 379.56" y="41.27" font-size="5.36" text-anchor="middle" fill="#333">isaer</text>
<text class="tl" x="304.70" y="29.80" font-size="10" textLength="13.20" lengthAdjust="spacingAndGlyphs">(b)</text>
<text class="tl" x="319.60" y="30.60" font-size="9.3" textLength="11.00" lengthAdjust="spacingAndGlyphs">AP</text>
<line x1="319.01" y1="310.69" x2="319.01" y2="285.53" stroke="#a0a0a0" stroke-width="1.1"/>
<line x1="312.41" y1="285.53" x2="325.61" y2="285.53" stroke="#a0a0a0" stroke-width="1.1"/>
<rect x="305.76" y="310.69" width="26.5" height="115.21" fill="#f6cb9b" stroke="#8c8c8c" stroke-width="0.8"/>
<line x1="359.83" y1="316.79" x2="359.83" y2="297.52" stroke="#a0a0a0" stroke-width="1.1"/>
<line x1="353.23" y1="297.52" x2="366.43" y2="297.52" stroke="#a0a0a0" stroke-width="1.1"/>
<rect x="346.58" y="316.79" width="26.5" height="109.11" fill="#a4d8a2" stroke="#8c8c8c" stroke-width="0.8"/>
<line x1="400.65" y1="311.09" x2="400.65" y2="285.53" stroke="#a0a0a0" stroke-width="1.1"/>
<line x1="394.05" y1="285.53" x2="407.25" y2="285.53" stroke="#a0a0a0" stroke-width="1.1"/>
<rect x="387.40" y="311.09" width="26.5" height="114.81" fill="#c7b8df" stroke="#8c8c8c" stroke-width="0.8"/>
<line x1="441.47" y1="309.12" x2="441.47" y2="281.79" stroke="#a0a0a0" stroke-width="1.1"/>
<line x1="434.87" y1="281.79" x2="448.07" y2="281.79" stroke="#a0a0a0" stroke-width="1.1"/>
<rect x="428.22" y="309.12" width="26.5" height="116.78" fill="#f6f5a6" stroke="#8c8c8c" stroke-width="0.8"/>
<line x1="482.29" y1="308.14" x2="482.29" y2="276.48" stroke="#a0a0a0" stroke-width="1.1"/>
<line x1="475.69" y1="276.48" x2="488.89" y2="276.48" stroke="#a0a0a0" stroke-width="1.1"/>
<rect x="469.04" y="308.14" width="26.5" height="117.76" fill="#a2bff4" stroke="#8c8c8c" stroke-width="0.8"/>
<line x1="523.11" y1="303.02" x2="523.11" y2="278.45" stroke="#a0a0a0" stroke-width="1.1"/>
<line x1="516.51" y1="278.45" x2="529.71" y2="278.45" stroke="#a0a0a0" stroke-width="1.1"/>
<rect x="509.86" y="303.02" width="26.5" height="122.88" fill="#f8b7f6" stroke="#8c8c8c" stroke-width="0.8"/>
<rect x="315.73" y="283.73" width="4.00" height="4.00" fill="#d4a011" transform="rotate(45 317.73 285.73)"/>
<rect x="318.02" y="285.89" width="4.00" height="4.00" fill="#d4a011" transform="rotate(45 320.02 287.89)"/>
<rect x="317.00" y="287.55" width="4.00" height="4.00" fill="#d4a011" transform="rotate(45 319.00 289.55)"/>
<rect x="316.75" y="295.18" width="4.00" height="4.00" fill="#d4a011" transform="rotate(45 318.75 297.18)"/>
<rect x="318.91" y="297.73" width="4.00" height="4.00" fill="#d4a011" transform="rotate(45 320.91 299.73)"/>
<rect x="314.71" y="299.64" width="4.00" height="4.00" fill="#d4a011" transform="rotate(45 316.71 301.64)"/>
<rect x="317.25" y="305.36" width="4.00" height="4.00" fill="#d4a011" transform="rotate(45 319.25 307.36)"/>
<rect x="320.18" y="305.75" width="4.00" height="4.00" fill="#d4a011" transform="rotate(45 322.18 307.75)"/>
<rect x="313.18" y="313.00" width="4.00" height="4.00" fill="#d4a011" transform="rotate(45 315.18 315.00)"/>
<rect x="315.73" y="312.36" width="4.00" height="4.00" fill="#d4a011" transform="rotate(45 317.73 314.36)"/>
<rect x="318.91" y="313.64" width="4.00" height="4.00" fill="#d4a011" transform="rotate(45 320.91 315.64)"/>
<rect x="311.91" y="316.18" width="4.00" height="4.00" fill="#d4a011" transform="rotate(45 313.91 318.18)"/>
<rect x="315.09" y="315.55" width="4.00" height="4.00" fill="#d4a011" transform="rotate(45 317.09 317.55)"/>
<rect x="318.27" y="316.18" width="4.00" height="4.00" fill="#d4a011" transform="rotate(45 320.27 318.18)"/>
<rect x="320.18" y="315.55" width="4.00" height="4.00" fill="#d4a011" transform="rotate(45 322.18 317.55)"/>
<rect x="313.18" y="318.73" width="4.00" height="4.00" fill="#d4a011" transform="rotate(45 315.18 320.73)"/>
<rect x="317.00" y="319.36" width="4.00" height="4.00" fill="#d4a011" transform="rotate(45 319.00 321.36)"/>
<rect x="319.55" y="318.09" width="4.00" height="4.00" fill="#d4a011" transform="rotate(45 321.55 320.09)"/>
<rect x="312.55" y="321.91" width="4.00" height="4.00" fill="#d4a011" transform="rotate(45 314.55 323.91)"/>
<rect x="315.09" y="322.55" width="4.00" height="4.00" fill="#d4a011" transform="rotate(45 317.09 324.55)"/>
<rect x="313.82" y="324.46" width="4.00" height="4.00" fill="#d4a011" transform="rotate(45 315.82 326.46)"/>
<rect x="317.00" y="321.27" width="4.00" height="4.00" fill="#d4a011" transform="rotate(45 319.00 323.27)"/>
<rect x="356.46" y="295.18" width="4.00" height="4.00" fill="#d4a011" transform="rotate(45 358.46 297.18)"/>
<rect x="354.55" y="298.36" width="4.00" height="4.00" fill="#d4a011" transform="rotate(45 356.55 300.36)"/>
<rect x="357.09" y="300.27" width="4.00" height="4.00" fill="#d4a011" transform="rotate(45 359.09 302.27)"/>
<rect x="355.18" y="303.46" width="4.00" height="4.00" fill="#d4a011" transform="rotate(45 357.18 305.46)"/>
<rect x="357.73" y="305.36" width="4.00" height="4.00" fill="#d4a011" transform="rotate(45 359.73 307.36)"/>
<rect x="355.18" y="315.55" width="4.00" height="4.00" fill="#d4a011" transform="rotate(45 357.18 317.55)"/>
<rect x="357.73" y="316.18" width="4.00" height="4.00" fill="#d4a011" transform="rotate(45 359.73 318.18)"/>
<rect x="356.46" y="318.73" width="4.00" height="4.00" fill="#d4a011" transform="rotate(45 358.46 320.73)"/>
<rect x="359.64" y="318.09" width="4.00" height="4.00" fill="#d4a011" transform="rotate(45 361.64 320.09)"/>
<rect x="361.55" y="319.36" width="4.00" height="4.00" fill="#d4a011" transform="rotate(45 363.55 321.36)"/>
<rect x="355.82" y="321.91" width="4.00" height="4.00" fill="#d4a011" transform="rotate(45 357.82 323.91)"/>
<rect x="359.00" y="322.55" width="4.00" height="4.00" fill="#d4a011" transform="rotate(45 361.00 324.55)"/>
<rect x="357.09" y="325.09" width="4.00" height="4.00" fill="#d4a011" transform="rotate(45 359.09 327.09)"/>
<rect x="359.64" y="326.11" width="4.00" height="4.00" fill="#d4a011" transform="rotate(45 361.64 328.11)"/>
<rect x="355.18" y="324.46" width="4.00" height="4.00" fill="#d4a011" transform="rotate(45 357.18 326.46)"/>
<rect x="398.02" y="283.44" width="4.00" height="4.00" fill="#d4a011" transform="rotate(45 400.02 285.44)"/>
<rect x="400.82" y="285.09" width="4.00" height="4.00" fill="#d4a011" transform="rotate(45 402.82 287.09)"/>
<rect x="403.11" y="286.36" width="4.00" height="4.00" fill="#d4a011" transform="rotate(45 405.11 288.36)"/>
<rect x="393.82" y="293.62" width="4.00" height="4.00" fill="#d4a011" transform="rotate(45 395.82 295.62)"/>
<rect x="399.29" y="299.73" width="4.00" height="4.00" fill="#d4a011" transform="rotate(45 401.29 301.73)"/>
<rect x="402.09" y="299.98" width="4.00" height="4.00" fill="#d4a011" transform="rotate(45 404.09 301.98)"/>
<rect x="399.55" y="302.91" width="4.00" height="4.00" fill="#d4a011" transform="rotate(45 401.55 304.91)"/>
<rect x="401.45" y="303.55" width="4.00" height="4.00" fill="#d4a011" transform="rotate(45 403.45 305.55)"/>
<rect x="396.36" y="313.09" width="4.00" height="4.00" fill="#d4a011" transform="rotate(45 398.36 315.09)"/>
<rect x="399.55" y="312.46" width="4.00" height="4.00" fill="#d4a011" transform="rotate(45 401.55 314.46)"/>
<rect x="402.09" y="313.73" width="4.00" height="4.00" fill="#d4a011" transform="rotate(45 404.09 315.73)"/>
<rect x="397.00" y="315.64" width="4.00" height="4.00" fill="#d4a011" transform="rotate(45 399.00 317.64)"/>
<rect x="400.18" y="316.27" width="4.00" height="4.00" fill="#d4a011" transform="rotate(45 402.18 318.27)"/>
<rect x="405.27" y="318.82" width="4.00" height="4.00" fill="#d4a011" transform="rotate(45 407.27 320.82)"/>
<rect x="395.73" y="318.82" width="4.00" height="4.00" fill="#d4a011" transform="rotate(45 397.73 320.82)"/>
<rect x="398.91" y="319.46" width="4.00" height="4.00" fill="#d4a011" transform="rotate(45 400.91 321.46)"/>
<rect x="397.00" y="322.00" width="4.00" height="4.00" fill="#d4a011" transform="rotate(45 399.00 324.00)"/>
<rect x="400.18" y="322.64" width="4.00" height="4.00" fill="#d4a011" transform="rotate(45 402.18 324.64)"/>
<rect x="396.36" y="324.55" width="4.00" height="4.00" fill="#d4a011" transform="rotate(45 398.36 326.55)"/>
<rect x="398.91" y="325.18" width="4.00" height="4.00" fill="#d4a011" transform="rotate(45 400.91 327.18)"/>
<rect x="440.02" y="279.36" width="4.00" height="4.00" fill="#d4a011" transform="rotate(45 442.02 281.36)"/>
<rect x="438.36" y="281.27" width="4.00" height="4.00" fill="#d4a011" transform="rotate(45 440.36 283.27)"/>
<rect x="437.73" y="284.45" width="4.00" height="4.00" fill="#d4a011" transform="rotate(45 439.73 286.45)"/>
<rect x="437.09" y="286.36" width="4.00" height="4.00" fill="#d4a011" transform="rotate(45 439.09 288.36)"/>
<rect x="441.29" y="295.91" width="4.00" height="4.00" fill="#d4a011" transform="rotate(45 443.29 297.91)"/>
<rect x="439.00" y="302.27" width="4.00" height="4.00" fill="#d4a011" transform="rotate(45 441.00 304.27)"/>
<rect x="441.55" y="302.91" width="4.00" height="4.00" fill="#d4a011" transform="rotate(45 443.55 304.91)"/>
<rect x="437.73" y="304.82" width="4.00" height="4.00" fill="#d4a011" transform="rotate(45 439.73 306.82)"/>
<rect x="439.64" y="305.46" width="4.00" height="4.00" fill="#d4a011" transform="rotate(45 441.64 307.46)"/>
<rect x="439.64" y="311.18" width="4.00" height="4.00" fill="#d4a011" transform="rotate(45 441.64 313.18)"/>
<rect x="437.73" y="315.00" width="4.00" height="4.00" fill="#d4a011" transform="rotate(45 439.73 317.00)"/>
<rect x="440.91" y="316.27" width="4.00" height="4.00" fill="#d4a011" transform="rotate(45 442.91 318.27)"/>
<rect x="439.00" y="318.18" width="4.00" height="4.00" fill="#d4a011" transform="rotate(45 441.00 320.18)"/>
<rect x="435.82" y="320.73" width="4.00" height="4.00" fill="#d4a011" transform="rotate(45 437.82 322.73)"/>
<rect x="439.64" y="321.36" width="4.00" height="4.00" fill="#d4a011" transform="rotate(45 441.64 323.36)"/>
<rect x="437.73" y="323.27" width="4.00" height="4.00" fill="#d4a011" transform="rotate(45 439.73 325.27)"/>
<rect x="441.55" y="323.27" width="4.00" height="4.00" fill="#d4a011" transform="rotate(45 443.55 325.27)"/>
<rect x="439.00" y="324.55" width="4.00" height="4.00" fill="#d4a011" transform="rotate(45 441.00 326.55)"/>
<rect x="478.27" y="273.91" width="4.00" height="4.00" fill="#d4a011" transform="rotate(45 480.27 275.91)"/>
<rect x="479.29" y="276.45" width="4.00" height="4.00" fill="#d4a011" transform="rotate(45 481.29 278.45)"/>
<rect x="477.25" y="284.09" width="4.00" height="4.00" fill="#d4a011" transform="rotate(45 479.25 286.09)"/>
<rect x="480.18" y="297.46" width="4.00" height="4.00" fill="#d4a011" transform="rotate(45 482.18 299.46)"/>
<rect x="478.91" y="300.00" width="4.00" height="4.00" fill="#d4a011" transform="rotate(45 480.91 302.00)"/>
<rect x="480.82" y="301.27" width="4.00" height="4.00" fill="#d4a011" transform="rotate(45 482.82 303.27)"/>
<rect x="476.36" y="303.18" width="4.00" height="4.00" fill="#d4a011" transform="rotate(45 478.36 305.18)"/>
<rect x="478.91" y="303.82" width="4.00" height="4.00" fill="#d4a011" transform="rotate(45 480.91 305.82)"/>
<rect x="481.45" y="303.18" width="4.00" height="4.00" fill="#d4a011" transform="rotate(45 483.45 305.18)"/>
<rect x="483.36" y="311.46" width="4.00" height="4.00" fill="#d4a011" transform="rotate(45 485.36 313.46)"/>
<rect x="480.82" y="314.00" width="4.00" height="4.00" fill="#d4a011" transform="rotate(45 482.82 316.00)"/>
<rect x="484.00" y="315.27" width="4.00" height="4.00" fill="#d4a011" transform="rotate(45 486.00 317.27)"/>
<rect x="479.55" y="317.18" width="4.00" height="4.00" fill="#d4a011" transform="rotate(45 481.55 319.18)"/>
<rect x="482.09" y="317.82" width="4.00" height="4.00" fill="#d4a011" transform="rotate(45 484.09 319.82)"/>
<rect x="478.27" y="320.36" width="4.00" height="4.00" fill="#d4a011" transform="rotate(45 480.27 322.36)"/>
<rect x="480.82" y="321.00" width="4.00" height="4.00" fill="#d4a011" transform="rotate(45 482.82 323.00)"/>
<rect x="477.00" y="322.91" width="4.00" height="4.00" fill="#d4a011" transform="rotate(45 479.00 324.91)"/>
<rect x="479.55" y="323.55" width="4.00" height="4.00" fill="#d4a011" transform="rotate(45 481.55 325.55)"/>
<rect x="520.53" y="265.00" width="4.00" height="4.00" fill="#d4a011" transform="rotate(45 522.53 267.00)"/>
<rect x="516.46" y="276.45" width="4.00" height="4.00" fill="#d4a011" transform="rotate(45 518.46 278.45)"/>
<rect x="517.98" y="293.64" width="4.00" height="4.00" fill="#d4a011" transform="rotate(45 519.98 295.64)"/>
<rect x="519.64" y="295.55" width="4.00" height="4.00" fill="#d4a011" transform="rotate(45 521.64 297.55)"/>
<rect x="516.46" y="297.46" width="4.00" height="4.00" fill="#d4a011" transform="rotate(45 518.46 299.46)"/>
<rect x="524.09" y="300.00" width="4.00" height="4.00" fill="#d4a011" transform="rotate(45 526.09 302.00)"/>
<rect x="520.27" y="301.27" width="4.00" height="4.00" fill="#d4a011" transform="rotate(45 522.27 303.27)"/>
<rect x="519.00" y="304.46" width="4.00" height="4.00" fill="#d4a011" transform="rotate(45 521.00 306.46)"/>
<rect x="522.82" y="306.36" width="4.00" height="4.00" fill="#d4a011" transform="rotate(45 524.82 308.36)"/>
<rect x="519.00" y="308.27" width="4.00" height="4.00" fill="#d4a011" transform="rotate(45 521.00 310.27)"/>
<rect x="520.27" y="311.46" width="4.00" height="4.00" fill="#d4a011" transform="rotate(45 522.27 313.46)"/>
<rect x="523.84" y="314.00" width="4.00" height="4.00" fill="#d4a011" transform="rotate(45 525.84 316.00)"/>
<rect x="519.00" y="315.91" width="4.00" height="4.00" fill="#d4a011" transform="rotate(45 521.00 317.91)"/>
<rect x="525.11" y="317.18" width="4.00" height="4.00" fill="#d4a011" transform="rotate(45 527.11 319.18)"/>
<rect x="298.6" y="229.3" width="244.90" height="196.60" fill="none" stroke="#404040" stroke-width="1.4"/>
<line x1="294.6" y1="425.90" x2="298.6" y2="425.90" stroke="#404040" stroke-width="1.4"/>
<g class="tl"><text x="283.20" y="429.40" font-size="9.2" text-anchor="end">0</text><text x="284.30" y="429.40" font-size="9.2" text-anchor="middle">.</text><text x="287.45" y="429.40" font-size="9.2" text-anchor="start">0</text></g>
<line x1="294.6" y1="386.58" x2="298.6" y2="386.58" stroke="#404040" stroke-width="1.4"/>
<g class="tl"><text x="283.20" y="390.08" font-size="9.2" text-anchor="end">0</text><text x="284.30" y="390.08" font-size="9.2" text-anchor="middle">.</text><text x="287.45" y="390.08" font-size="9.2" text-anchor="start">2</text></g>
<line x1="294.6" y1="347.26" x2="298.6" y2="347.26" stroke="#404040" stroke-width="1.4"/>
<g class="tl"><text x="283.20" y="350.76" font-size="9.2" text-anchor="end">0</text><text x="284.30" y="350.76" font-size="9.2" text-anchor="middle">.</text><text x="287.45" y="350.76" font-size="9.2" text-anchor="start">4</text></g>
<line x1="294.6" y1="307.94" x2="298.6" y2="307.94" stroke="#404040" stroke-width="1.4"/>
<g class="tl"><text x="283.20" y="311.44" font-size="9.2" text-anchor="end">0</text><text x="284.30" y="311.44" font-size="9.2" text-anchor="middle">.</text><text x="287.45" y="311.44" font-size="9.2" text-anchor="start">6</text></g>
<line x1="294.6" y1="268.62" x2="298.6" y2="268.62" stroke="#404040" stroke-width="1.4"/>
<g class="tl"><text x="283.20" y="272.12" font-size="9.2" text-anchor="end">0</text><text x="284.30" y="272.12" font-size="9.2" text-anchor="middle">.</text><text x="287.45" y="272.12" font-size="9.2" text-anchor="start">8</text></g>
<line x1="294.6" y1="229.30" x2="298.6" y2="229.30" stroke="#404040" stroke-width="1.4"/>
<g class="tl"><text x="283.20" y="232.80" font-size="9.2" text-anchor="end">1</text><text x="284.30" y="232.80" font-size="9.2" text-anchor="middle">.</text><text x="287.45" y="232.80" font-size="9.2" text-anchor="start">0</text></g>
<rect x="340.6" y="234.1" width="64.70" height="46.30" fill="#ffffff" fill-opacity="0.85" stroke="#c8c8c8" stroke-width="0.9"/>
<rect x="341.5" y="235.10" width="13.00" height="6.40" fill="#f6cb9b" stroke="#8c8c8c" stroke-width="0.7"/>
<text x="359.04" y="240.61" font-size="7.00" textLength="3.43" lengthAdjust="spacingAndGlyphs" fill="#333">R</text>
<text x="373.04" y="240.61" font-size="7.00" textLength="3.43" lengthAdjust="spacingAndGlyphs" fill="#333">n</text>
<text x="380.04" y="240.61" font-size="7.00" textLength="3.43" lengthAdjust="spacingAndGlyphs" fill="#333">N</text>
<text x="364.25 367.75 371.25 378.25 385.25 388.75" y="240.61" font-size="7.00" text-anchor="middle" fill="#333">etiaet</text>
<rect x="341.5" y="242.70" width="13.00" height="6.40" fill="#a4d8a2" stroke="#8c8c8c" stroke-width="0.7"/>
<text x="359.04" y="248.21" font-size="7.00" textLength="3.43" lengthAdjust="spacingAndGlyphs" fill="#333">F</text>
<text x="383.54" y="248.21" font-size="7.00" textLength="3.43" lengthAdjust="spacingAndGlyphs" fill="#333">R</text>
<text x="390.54" y="248.21" font-size="7.00" textLength="3.43" lengthAdjust="spacingAndGlyphs" fill="#333">C</text>
<text x="394.04" y="248.21" font-size="7.00" textLength="3.43" lengthAdjust="spacingAndGlyphs" fill="#333">N</text>
<text x="397.54" y="248.21" font-size="7.00" textLength="3.43" lengthAdjust="spacingAndGlyphs" fill="#333">N</text>
<text x="364.25 367.75 371.25 374.75 378.25 388.75" y="248.21" font-size="7.00" text-anchor="middle" fill="#333">aster-</text>
<rect x="341.5" y="250.30" width="13.00" height="6.40" fill="#c7b8df" stroke="#8c8c8c" stroke-width="0.7"/>
<text x="359.04" y="255.81" font-size="7.00" textLength="3.43" lengthAdjust="spacingAndGlyphs" fill="#333">M</text>
<text x="369.54" y="255.81" font-size="7.00" textLength="3.43" lengthAdjust="spacingAndGlyphs" fill="#333">k</text>
<text x="376.54" y="255.81" font-size="7.00" textLength="3.43" lengthAdjust="spacingAndGlyphs" fill="#333">R</text>
<text x="383.54" y="255.81" font-size="7.00" textLength="3.43" lengthAdjust="spacingAndGlyphs" fill="#333">C</text>
<text x="387.04" y="255.81" font-size="7.00" textLength="3.43" lengthAdjust="spacingAndGlyphs" fill="#333">N</text>
<text x="390.54" y="255.81" font-size="7.00" textLength="3.43" lengthAdjust="spacingAndGlyphs" fill="#333">N</text>
<text x="364.25 367.75 381.75" y="255.81" font-size="7.00" text-anchor="middle" fill="#333">as-</text>
<rect x="341.5" y="257.90" width="13.00" height="6.40" fill="#f6f5a6" stroke="#8c8c8c" stroke-width="0.7"/>
<text x="359.04" y="263.41" font-size="7.00" textLength="3.43" lengthAdjust="spacingAndGlyphs" fill="#333">Y</text>
<text x="362.54" y="263.41" font-size="7.00" textLength="3.43" lengthAdjust="spacingAndGlyphs" fill="#333">O</text>
<text x="366.04" y="263.41" font-size="7.00" textLength="3.43" lengthAdjust="spacingAndGlyphs" fill="#333">L</text>
<text x="369.54" y="263.41" font-size="7.00" textLength="3.43" lengthAdjust="spacingAndGlyphs" fill="#333">O</text>
<text x="373.04" y="263.41" font-size="7.00" textLength="3.43" lengthAdjust="spacingAndGlyphs" fill="#333">v</text>
<text x="376.54" y="263.41" font-size="7.00" textLength="3.43" lengthAdjust="spacingAndGlyphs" fill="#333">4</text>
<rect x="341.5" y="265.50" width="13.00" height="6.40" fill="#a2bff4" stroke="#8c8c8c" stroke-width="0.7"/>
<text x="359.04" y="271.01" font-size="7.00" textLength="3.43" lengthAdjust="spacingAndGlyphs" fill="#333">C</text>
<text x="376.54" y="271.01" font-size="7.00" textLength="3.43" lengthAdjust="spacingAndGlyphs" fill="#333">d</text>
<text x="387.04" y="271.01" font-size="7.00" textLength="3.43" lengthAdjust="spacingAndGlyphs" fill="#333">R</text>
<text x="394.04" y="271.01" font-size="7.00" textLength="3.43" lengthAdjust="spacingAndGlyphs" fill="#333">C</text>
<text x="397.54" y="271.01" font-size="7.00" textLength="3.43" lengthAdjust="spacingAndGlyphs" fill="#333">N</text>
<text x="401.04" y="271.01" font-size="7.00" textLength="3.43" lengthAdjust="spacingAndGlyphs" fill="#333">N</text>
<text x="364.25 367.75 371.25 374.75 381.75 392.25" y="271.01" font-size="7.00" text-anchor="middle" fill="#333">ascae-</text>
<rect x="341.5" y="273.10" width="13.00" height="6.40" fill="#f8b7f6" stroke="#8c8c8c" stroke-width="0.7"/>
<text x="359.04" y="278.61" font-size="7.00" textLength="3.43" lengthAdjust="spacingAndGlyphs" fill="#333">T</text>
<text x="362.54" y="278.61" font-size="7.00" textLength="3.43" lengthAdjust="spacingAndGlyphs" fill="#333">h</text>
<text x="376.54" y="278.61" font-size="7.00" textLength="3.43" lengthAdjust="spacingAndGlyphs" fill="#333">P</text>
<text x="383.54" y="278.61" font-size="7.00" textLength="3.43" lengthAdjust="spacingAndGlyphs" fill="#333">p</text>
<text x="367.75 371.25 381.75 388.75 392.25" y="278.61" font-size="7.00" text-anchor="middle" fill="#333">isaer</text>
<text class="tl" x="303.20" y="252.50" font-size="10" textLength="12.80" lengthAdjust="spacingAndGlyphs">(d)</text>
<text class="tl" x="319.60" y="253.50" font-size="10" textLength="9.90" lengthAdjust="spacingAndGlyphs">F1</text>
<line x1="319.01" y1="563.17" x2="319.01" y2="491.03" stroke="#a0a0a0" stroke-width="1.1"/>
<line x1="312.41" y1="491.03" x2="325.61" y2="491.03" stroke="#a0a0a0" stroke-width="1.1"/>
<rect x="305.76" y="563.17" width="26.5" height="82.53" fill="#f6cb9b" stroke="#8c8c8c" stroke-width="0.8"/>
<line x1="359.83" y1="557.56" x2="359.83" y2="482.61" stroke="#a0a0a0" stroke-width="1.1"/>
<line x1="353.23" y1="482.61" x2="366.43" y2="482.61" stroke="#a0a0a0" stroke-width="1.1"/>
<rect x="346.58" y="557.56" width="26.5" height="88.14" fill="#a4d8a2" stroke="#8c8c8c" stroke-width="0.8"/>
<line x1="400.65" y1="566.26" x2="400.65" y2="499.17" stroke="#a0a0a0" stroke-width="1.1"/>
<line x1="394.05" y1="499.17" x2="407.25" y2="499.17" stroke="#a0a0a0" stroke-width="1.1"/>
<rect x="387.40" y="566.26" width="26.5" height="79.44" fill="#c7b8df" stroke="#8c8c8c" stroke-width="0.8"/>
<line x1="441.47" y1="569.63" x2="441.47" y2="501.98" stroke="#a0a0a0" stroke-width="1.1"/>
<line x1="434.87" y1="501.98" x2="448.07" y2="501.98" stroke="#a0a0a0" stroke-width="1.1"/>
<rect x="428.22" y="569.63" width="26.5" height="76.07" fill="#f6f5a6" stroke="#8c8c8c" stroke-width="0.8"/>
<line x1="482.29" y1="566.82" x2="482.29" y2="501.98" stroke="#a0a0a0" stroke-width="1.1"/>
<line x1="475.69" y1="501.98" x2="488.89" y2="501.98" stroke="#a0a0a0" stroke-width="1.1"/>
<rect x="469.04" y="566.82" width="26.5" height="78.88" fill="#a2bff4" stroke="#8c8c8c" stroke-width="0.8"/>
<line x1="523.11" y1="571.88" x2="523.11" y2="507.88" stroke="#a0a0a0" stroke-width="1.1"/>
<line x1="516.51" y1="507.88" x2="529.71" y2="507.88" stroke="#a0a0a0" stroke-width="1.1"/>
<rect x="509.86" y="571.88" width="26.5" height="73.82" fill="#f8b7f6" stroke="#8c8c8c" stroke-width="0.8"/>
<rect x="313.70" y="488.90" width="4.00" height="4.00" fill="#07786e" transform="rotate(45 315.70 490.90)"/>
<rect x="315.50" y="524.90" width="4.00" height="4.00" fill="#07786e" transform="rotate(45 317.50 526.90)"/>
<rect x="315.00" y="528.20" width="4.00" height="4.00" fill="#07786e" transform="rotate(45 317.00 530.20)"/>
<rect x="319.80" y="536.50" width="4.00" height="4.00" fill="#07786e" transform="rotate(45 321.80 538.50)"/>
<rect x="312.20" y="539.50" width="4.00" height="4.00" fill="#07786e" transform="rotate(45 314.20 541.50)"/>
<rect x="317.20" y="541.70" width="4.00" height="4.00" fill="#07786e" transform="rotate(45 319.20 543.70)"/>
<rect x="316.50" y="544.50" width="4.00" height="4.00" fill="#07786e" transform="rotate(45 318.50 546.50)"/>
<rect x="313.70" y="550.40" width="4.00" height="4.00" fill="#07786e" transform="rotate(45 315.70 552.40)"/>
<rect x="317.60" y="551.10" width="4.00" height="4.00" fill="#07786e" transform="rotate(45 319.60 553.10)"/>
<rect x="318.70" y="559.20" width="4.00" height="4.00" fill="#07786e" transform="rotate(45 320.70 561.20)"/>
<rect x="313.70" y="573.60" width="4.00" height="4.00" fill="#07786e" transform="rotate(45 315.70 575.60)"/>
<rect x="312.20" y="581.60" width="4.00" height="4.00" fill="#07786e" transform="rotate(45 314.20 583.60)"/>
<rect x="317.60" y="578.80" width="4.00" height="4.00" fill="#07786e" transform="rotate(45 319.60 580.80)"/>
<rect x="318.70" y="584.90" width="4.00" height="4.00" fill="#07786e" transform="rotate(45 320.70 586.90)"/>
<rect x="315.50" y="589.70" width="4.00" height="4.00" fill="#07786e" transform="rotate(45 317.50 591.70)"/>
<rect x="316.50" y="592.60" width="4.00" height="4.00" fill="#07786e" transform="rotate(45 318.50 594.60)"/>
<rect x="317.60" y="595.80" width="4.00" height="4.00" fill="#07786e" transform="rotate(45 319.60 597.80)"/>
<rect x="356.50" y="480.60" width="4.00" height="4.00" fill="#07786e" transform="rotate(45 358.50 482.60)"/>
<rect x="358.00" y="519.90" width="4.00" height="4.00" fill="#07786e" transform="rotate(45 360.00 521.90)"/>
<rect x="359.50" y="525.60" width="4.00" height="4.00" fill="#07786e" transform="rotate(45 361.50 527.60)"/>
<rect x="361.30" y="530.80" width="4.00" height="4.00" fill="#07786e" transform="rotate(45 363.30 532.80)"/>
<rect x="354.70" y="534.30" width="4.00" height="4.00" fill="#07786e" transform="rotate(45 356.70 536.30)"/>
<rect x="357.30" y="534.30" width="4.00" height="4.00" fill="#07786e" transform="rotate(45 359.30 536.30)"/>
<rect x="355.80" y="539.10" width="4.00" height="4.00" fill="#07786e" transform="rotate(45 357.80 541.10)"/>
<rect x="356.50" y="542.40" width="4.00" height="4.00" fill="#07786e" transform="rotate(45 358.50 544.40)"/>
<rect x="360.80" y="547.80" width="4.00" height="4.00" fill="#07786e" transform="rotate(45 362.80 549.80)"/>
<rect x="356.50" y="553.90" width="4.00" height="4.00" fill="#07786e" transform="rotate(45 358.50 555.90)"/>
<rect x="356.50" y="564.80" width="4.00" height="4.00" fill="#07786e" transform="rotate(45 358.50 566.80)"/>
<rect x="357.30" y="570.70" width="4.00" height="4.00" fill="#07786e" transform="rotate(45 359.30 572.70)"/>
<rect x="359.50" y="572.90" width="4.00" height="4.00" fill="#07786e" transform="rotate(45 361.50 574.90)"/>
<rect x="355.20" y="577.30" width="4.00" height="4.00" fill="#07786e" transform="rotate(45 357.20 579.30)"/>
<rect x="356.90" y="580.60" width="4.00" height="4.00" fill="#07786e" transform="rotate(45 358.90 582.60)"/>
<rect x="355.80" y="583.80" width="4.00" height="4.00" fill="#07786e" transform="rotate(45 357.80 585.80)"/>
<rect x="354.30" y="589.70" width="4.00" height="4.00" fill="#07786e" transform="rotate(45 356.30 591.70)"/>
<rect x="357.30" y="592.60" width="4.00" height="4.00" fill="#07786e" transform="rotate(45 359.30 594.60)"/>
<rect x="399.50" y="497.20" width="4.00" height="4.00" fill="#07786e" transform="rotate(45 401.50 499.20)"/>
<rect x="397.90" y="528.20" width="4.00" height="4.00" fill="#07786e" transform="rotate(45 399.90 530.20)"/>
<rect x="402.30" y="534.30" width="4.00" height="4.00" fill="#07786e" transform="rotate(45 404.30 536.30)"/>
<rect x="399.50" y="540.20" width="4.00" height="4.00" fill="#07786e" transform="rotate(45 401.50 542.20)"/>
<rect x="397.30" y="543.50" width="4.00" height="4.00" fill="#07786e" transform="rotate(45 399.30 545.50)"/>
<rect x="398.40" y="551.10" width="4.00" height="4.00" fill="#07786e" transform="rotate(45 400.40 553.10)"/>
<rect x="396.60" y="556.10" width="4.00" height="4.00" fill="#07786e" transform="rotate(45 398.60 558.10)"/>
<rect x="399.50" y="562.00" width="4.00" height="4.00" fill="#07786e" transform="rotate(45 401.50 564.00)"/>
<rect x="397.30" y="573.40" width="4.00" height="4.00" fill="#07786e" transform="rotate(45 399.30 575.40)"/>
<rect x="404.90" y="575.80" width="4.00" height="4.00" fill="#07786e" transform="rotate(45 406.90 577.80)"/>
<rect x="397.30" y="579.50" width="4.00" height="4.00" fill="#07786e" transform="rotate(45 399.30 581.50)"/>
<rect x="399.50" y="587.10" width="4.00" height="4.00" fill="#07786e" transform="rotate(45 401.50 589.10)"/>
<rect x="401.60" y="587.10" width="4.00" height="4.00" fill="#07786e" transform="rotate(45 403.60 589.10)"/>
<rect x="394.00" y="592.60" width="4.00" height="4.00" fill="#07786e" transform="rotate(45 396.00 594.60)"/>
<rect x="398.40" y="595.80" width="4.00" height="4.00" fill="#07786e" transform="rotate(45 400.40 597.80)"/>
<rect x="400.00" y="599.50" width="4.00" height="4.00" fill="#07786e" transform="rotate(45 402.00 601.50)"/>
<rect x="435.00" y="500.00" width="4.00" height="4.00" fill="#07786e" transform="rotate(45 437.00 502.00)"/>
<rect x="440.90" y="531.20" width="4.00" height="4.00" fill="#07786e" transform="rotate(45 442.90 533.20)"/>
<rect x="439.80" y="534.90" width="4.00" height="4.00" fill="#07786e" transform="rotate(45 441.80 536.90)"/>
<rect x="437.20" y="537.10" width="4.00" height="4.00" fill="#07786e" transform="rotate(45 439.20 539.10)"/>
<rect x="438.10" y="538.60" width="4.00" height="4.00" fill="#07786e" transform="rotate(45 440.10 540.60)"/>
<rect x="442.00" y="542.10" width="4.00" height="4.00" fill="#07786e" transform="rotate(45 444.00 544.10)"/>
<rect x="437.60" y="548.00" width="4.00" height="4.00" fill="#07786e" transform="rotate(45 439.60 550.00)"/>
<rect x="437.20" y="556.70" width="4.00" height="4.00" fill="#07786e" transform="rotate(45 439.20 558.70)"/>
<rect x="441.60" y="562.20" width="4.00" height="4.00" fill="#07786e" transform="rotate(45 443.60 564.20)"/>
<rect x="440.30" y="568.30" width="4.00" height="4.00" fill="#07786e" transform="rotate(45 442.30 570.30)"/>
<rect x="438.70" y="570.50" width="4.00" height="4.00" fill="#07786e" transform="rotate(45 440.70 572.50)"/>
<rect x="437.60" y="581.40" width="4.00" height="4.00" fill="#07786e" transform="rotate(45 439.60 583.40)"/>
<rect x="438.70" y="584.00" width="4.00" height="4.00" fill="#07786e" transform="rotate(45 440.70 586.00)"/>
<rect x="438.10" y="589.50" width="4.00" height="4.00" fill="#07786e" transform="rotate(45 440.10 591.50)"/>
<rect x="439.80" y="590.10" width="4.00" height="4.00" fill="#07786e" transform="rotate(45 441.80 592.10)"/>
<rect x="442.00" y="598.80" width="4.00" height="4.00" fill="#07786e" transform="rotate(45 444.00 600.80)"/>
<rect x="437.60" y="601.50" width="4.00" height="4.00" fill="#07786e" transform="rotate(45 439.60 603.50)"/>
<rect x="438.70" y="604.10" width="4.00" height="4.00" fill="#07786e" transform="rotate(45 440.70 606.10)"/>
<rect x="480.20" y="500.00" width="4.00" height="4.00" fill="#07786e" transform="rotate(45 482.20 502.00)"/>
<rect x="479.50" y="528.40" width="4.00" height="4.00" fill="#07786e" transform="rotate(45 481.50 530.40)"/>
<rect x="483.50" y="531.20" width="4.00" height="4.00" fill="#07786e" transform="rotate(45 485.50 533.20)"/>
<rect x="479.50" y="537.10" width="4.00" height="4.00" fill="#07786e" transform="rotate(45 481.50 539.10)"/>
<rect x="483.00" y="539.30" width="4.00" height="4.00" fill="#07786e" transform="rotate(45 485.00 541.30)"/>
<rect x="479.10" y="542.50" width="4.00" height="4.00" fill="#07786e" transform="rotate(45 481.10 544.50)"/>
<rect x="478.70" y="545.20" width="4.00" height="4.00" fill="#07786e" transform="rotate(45 480.70 547.20)"/>
<rect x="480.20" y="556.70" width="4.00" height="4.00" fill="#07786e" transform="rotate(45 482.20 558.70)"/>
<rect x="479.10" y="558.90" width="4.00" height="4.00" fill="#07786e" transform="rotate(45 481.10 560.90)"/>
<rect x="481.30" y="559.60" width="4.00" height="4.00" fill="#07786e" transform="rotate(45 483.30 561.60)"/>
<rect x="479.50" y="570.50" width="4.00" height="4.00" fill="#07786e" transform="rotate(45 481.50 572.50)"/>
<rect x="483.50" y="576.40" width="4.00" height="4.00" fill="#07786e" transform="rotate(45 485.50 578.40)"/>
<rect x="476.90" y="581.80" width="4.00" height="4.00" fill="#07786e" transform="rotate(45 478.90 583.80)"/>
<rect x="479.10" y="584.00" width="4.00" height="4.00" fill="#07786e" transform="rotate(45 481.10 586.00)"/>
<rect x="476.50" y="589.50" width="4.00" height="4.00" fill="#07786e" transform="rotate(45 478.50 591.50)"/>
<rect x="480.20" y="590.10" width="4.00" height="4.00" fill="#07786e" transform="rotate(45 482.20 592.10)"/>
<rect x="478.00" y="595.40" width="4.00" height="4.00" fill="#07786e" transform="rotate(45 480.00 597.40)"/>
<rect x="480.20" y="598.20" width="4.00" height="4.00" fill="#07786e" transform="rotate(45 482.20 600.20)"/>
<rect x="478.00" y="604.10" width="4.00" height="4.00" fill="#07786e" transform="rotate(45 480.00 606.10)"/>
<rect x="521.00" y="505.90" width="4.00" height="4.00" fill="#07786e" transform="rotate(45 523.00 507.90)"/>
<rect x="518.80" y="528.40" width="4.00" height="4.00" fill="#07786e" transform="rotate(45 520.80 530.40)"/>
<rect x="519.50" y="539.30" width="4.00" height="4.00" fill="#07786e" transform="rotate(45 521.50 541.30)"/>
<rect x="518.40" y="540.80" width="4.00" height="4.00" fill="#07786e" transform="rotate(45 520.40 542.80)"/>
<rect x="520.60" y="544.70" width="4.00" height="4.00" fill="#07786e" transform="rotate(45 522.60 546.70)"/>
<rect x="524.50" y="550.80" width="4.00" height="4.00" fill="#07786e" transform="rotate(45 526.50 552.80)"/>
<rect x="517.30" y="562.20" width="4.00" height="4.00" fill="#07786e" transform="rotate(45 519.30 564.20)"/>
<rect x="520.60" y="562.20" width="4.00" height="4.00" fill="#07786e" transform="rotate(45 522.60 564.20)"/>
<rect x="523.80" y="564.80" width="4.00" height="4.00" fill="#07786e" transform="rotate(45 525.80 566.80)"/>
<rect x="518.80" y="567.60" width="4.00" height="4.00" fill="#07786e" transform="rotate(45 520.80 569.60)"/>
<rect x="522.70" y="581.80" width="4.00" height="4.00" fill="#07786e" transform="rotate(45 524.70 583.80)"/>
<rect x="524.50" y="587.90" width="4.00" height="4.00" fill="#07786e" transform="rotate(45 526.50 589.90)"/>
<rect x="523.20" y="590.60" width="4.00" height="4.00" fill="#07786e" transform="rotate(45 525.20 592.60)"/>
<rect x="517.90" y="593.20" width="4.00" height="4.00" fill="#07786e" transform="rotate(45 519.90 595.20)"/>
<rect x="517.30" y="601.00" width="4.00" height="4.00" fill="#07786e" transform="rotate(45 519.30 603.00)"/>
<rect x="519.50" y="601.50" width="4.00" height="4.00" fill="#07786e" transform="rotate(45 521.50 603.50)"/>
<rect x="521.00" y="609.80" width="4.00" height="4.00" fill="#07786e" transform="rotate(45 523.00 611.80)"/>
<rect x="519.50" y="618.50" width="4.00" height="4.00" fill="#07786e" transform="rotate(45 521.50 620.50)"/>
<rect x="298.6" y="449.1" width="244.90" height="196.60" fill="none" stroke="#404040" stroke-width="1.4"/>
<line x1="294.6" y1="645.70" x2="298.6" y2="645.70" stroke="#404040" stroke-width="1.4"/>
<g class="tl"><text x="283.20" y="649.20" font-size="9.2" text-anchor="end">0</text><text x="284.30" y="649.20" font-size="9.2" text-anchor="middle">.</text><text x="287.45" y="649.20" font-size="9.2" text-anchor="start">0</text></g>
<line x1="294.6" y1="589.56" x2="298.6" y2="589.56" stroke="#404040" stroke-width="1.4"/>
<g class="tl"><text x="283.20" y="593.06" font-size="9.2" text-anchor="end">0</text><text x="284.30" y="593.06" font-size="9.2" text-anchor="middle">.</text><text x="287.45" y="593.06" font-size="9.2" text-anchor="start">2</text></g>
<line x1="294.6" y1="533.42" x2="298.6" y2="533.42" stroke="#404040" stroke-width="1.4"/>
<g class="tl"><text x="283.20" y="536.92" font-size="9.2" text-anchor="end">0</text><text x="284.30" y="536.92" font-size="9.2" text-anchor="middle">.</text><text x="287.45" y="536.92" font-size="9.2" text-anchor="start">4</text></g>
<line x1="294.6" y1="477.28" x2="298.6" y2="477.28" stroke="#404040" stroke-width="1.4"/>
<g class="tl"><text x="283.20" y="480.78" font-size="9.2" text-anchor="end">0</text><text x="284.30" y="480.78" font-size="9.2" text-anchor="middle">.</text><text x="287.45" y="480.78" font-size="9.2" text-anchor="start">6</text></g>
<rect x="399.5" y="452.0" width="59.90" height="43.60" fill="#ffffff" fill-opacity="0.85" stroke="#c8c8c8" stroke-width="0.9"/>
<rect x="400.2" y="453.30" width="12.30" height="6.00" fill="#f6cb9b" stroke="#8c8c8c" stroke-width="0.7"/>
<text x="416.23" y="458.44" font-size="6.50" textLength="3.19" lengthAdjust="spacingAndGlyphs" fill="#333">R</text>
<text x="429.23" y="458.44" font-size="6.50" textLength="3.19" lengthAdjust="spacingAndGlyphs" fill="#333">n</text>
<text x="435.73" y="458.44" font-size="6.50" textLength="3.19" lengthAdjust="spacingAndGlyphs" fill="#333">N</text>
<text x="421.07 424.32 427.57 434.07 440.57 443.82" y="458.44" font-size="6.50" text-anchor="middle" fill="#333">etiaet</text>
<rect x="400.2" y="460.40" width="12.30" height="6.00" fill="#a4d8a2" stroke="#8c8c8c" stroke-width="0.7"/>
<text x="416.23" y="465.54" font-size="6.50" textLength="3.19" lengthAdjust="spacingAndGlyphs" fill="#333">F</text>
<text x="438.98" y="465.54" font-size="6.50" textLength="3.19" lengthAdjust="spacingAndGlyphs" fill="#333">R</text>
<text x="445.48" y="465.54" font-size="6.50" textLength="3.19" lengthAdjust="spacingAndGlyphs" fill="#333">C</text>
<text x="448.73" y="465.54" font-size="6.50" textLength="3.19" lengthAdjust="spacingAndGlyphs" fill="#333">N</text>
<text x="451.98" y="465.54" font-size="6.50" textLength="3.19" lengthAdjust="spacingAndGlyphs" fill="#333">N</text>
<text x="421.07 424.32 427.57 430.82 434.07 443.82" y="465.54" font-size="6.50" text-anchor="middle" fill="#333">aster-</text>
<rect x="400.2" y="467.50" width="12.30" height="6.00" fill="#c7b8df" stroke="#8c8c8c" stroke-width="0.7"/>
<text x="416.23" y="472.64" font-size="6.50" textLength="3.19" lengthAdjust="spacingAndGlyphs" fill="#333">M</text>
<text x="425.98" y="472.64" font-size="6.50" textLength="3.19" lengthAdjust="spacingAndGlyphs" fill="#333">k</text>
<text x="432.48" y="472.64" font-size="6.50" textLength="3.19" lengthAdjust="spacingAndGlyphs" fill="#333">R</text>
<text x="438.98" y="472.64" font-size="6.50" textLength="3.19" lengthAdjust="spacingAndGlyphs" fill="#333">C</text>
<text x="442.23" y="472.64" font-size="6.50" textLength="3.19" lengthAdjust="spacingAndGlyphs" fill="#333">N</text>
<text x="445.48" y="472.64" font-size="6.50" textLength="3.19" lengthAdjust="spacingAndGlyphs" fill="#333">N</text>
<text x="421.07 424.32 437.32" y="472.64" font-size="6.50" text-anchor="middle" fill="#333">as-</text>
<rect x="400.2" y="474.50" width="12.30" height="6.00" fill="#f6f5a6" stroke="#8c8c8c" stroke-width="0.7"/>
<text x="416.23" y="479.64" font-size="6.50" textLength="3.19" lengthAdjust="spacingAndGlyphs" fill="#333">Y</text>
<text x="419.48" y="479.64" font-size="6.50" textLength="3.19" lengthAdjust="spacingAndGlyphs" fill="#333">O</text>
<text x="422.73" y="479.64" font-size="6.50" textLength="3.19" lengthAdjust="spacingAndGlyphs" fill="#333">L</text>
<text x="425.98" y="479.64" font-size="6.50" textLength="3.19" lengthAdjust="spacingAndGlyphs" fill="#333">O</text>
<text x="429.23" y="479.64" font-size="6.50" textLength="3.19" lengthAdjust="spacingAndGlyphs" fill="#333">v</text>
<text x="432.48" y="479.64" font-size="6.50" textLength="3.19" lengthAdjust="spacingAndGlyphs" fill="#333">4</text>
<rect x="400.2" y="481.50" width="12.30" height="6.00" fill="#a2bff4" stroke="#8c8c8c" stroke-width="0.7"/>
<text x="416.23" y="486.64" font-size="6.50" textLength="3.19" lengthAdjust="spacingAndGlyphs" fill="#333">C</text>
<text x="432.48" y="486.64" font-size="6.50" textLength="3.19" lengthAdjust="spacingAndGlyphs" fill="#333">d</text>
<text x="442.23" y="486.64" font-size="6.50" textLength="3.19" lengthAdjust="spacingAndGlyphs" fill="#333">R</text>
<text x="448.73" y="486.64" font-size="6.50" textLength="3.19" lengthAdjust="spacingAndGlyphs" fill="#333">C</text>
<text x="451.98" y="486.64" font-size="6.50" textLength="3.19" lengthAdjust="spacingAndGlyphs" fill="#333">N</text>
<text x="455.23" y="486.64" font-size="6.50" textLength="3.19" lengthAdjust="spacingAndGlyphs" fill="#333">N</text>
<text x="421.07 424.32 427.57 430.82 437.32 447.07" y="486.64" font-size="6.50" text-anchor="middle" fill="#333">ascae-</text>
<rect x="400.2" y="488.50" width="12.30" height="6.00" fill="#f8b7f6" stroke="#8c8c8c" stroke-width="0.7"/>
<text x="416.23" y="493.64" font-size="6.50" textLength="3.19" lengthAdjust="spacingAndGlyphs" fill="#333">T</text>
<text x="419.48" y="493.64" font-size="6.50" textLength="3.19" lengthAdjust="spacingAndGlyphs" fill="#333">h</text>
<text x="432.48" y="493.64" font-size="6.50" textLength="3.19" lengthAdjust="spacingAndGlyphs" fill="#333">P</text>
<text x="438.98" y="493.64" font-size="6.50" textLength="3.19" lengthAdjust="spacingAndGlyphs" fill="#333">p</text>
<text x="424.32 427.57 437.32 443.82 447.07" y="493.64" font-size="6.50" text-anchor="middle" fill="#333">isaer</text>
<text class="tl" x="306.40" y="474.80" font-size="10" textLength="13.10" lengthAdjust="spacingAndGlyphs">(f)</text>
<text class="tl" x="323.70" y="475.50" font-size="9.2" textLength="20.80" lengthAdjust="spacingAndGlyphs">LAMR</text>
</svg>
</body></html>
